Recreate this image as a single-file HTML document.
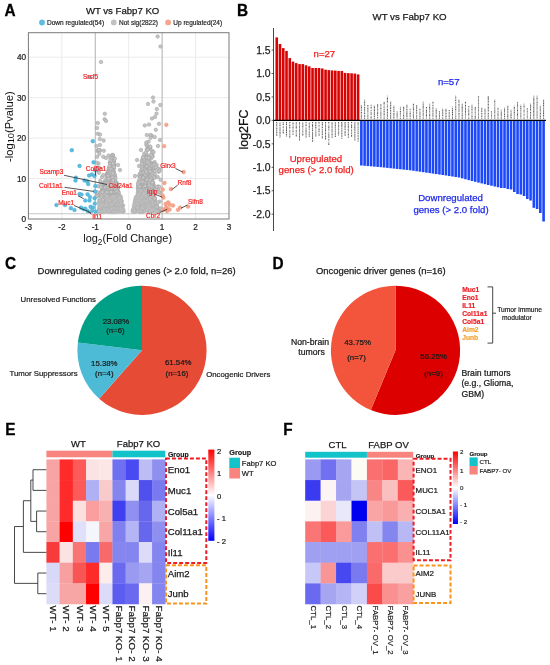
<!DOCTYPE html>
<html><head><meta charset="utf-8"><style>
html,body{margin:0;padding:0;background:#fff;width:550px;height:665px;overflow:hidden;}
svg{display:block;font-family:"Liberation Sans",sans-serif;will-change:transform;}
</style></head><body>
<svg width="550" height="665" viewBox="0 0 550 665" font-family="Liberation Sans, sans-serif"><text x="0" y="0" font-size="16.0" font-weight="bold" fill="#000" stroke="#000" stroke-width="0.3" transform="translate(4.6 15.5) scale(0.96 1)">A</text>
<text x="0" y="0" font-size="16.0" font-weight="bold" fill="#000" stroke="#000" stroke-width="0.3" transform="translate(237.1 15.5) scale(0.96 1)">B</text>
<text x="0" y="0" font-size="16.0" font-weight="bold" fill="#000" stroke="#000" stroke-width="0.3" transform="translate(4.9 268.6) scale(0.96 1)">C</text>
<text x="0" y="0" font-size="16.0" font-weight="bold" fill="#000" stroke="#000" stroke-width="0.3" transform="translate(272.6 268.8) scale(0.96 1)">D</text>
<text x="0" y="0" font-size="16.0" font-weight="bold" fill="#000" stroke="#000" stroke-width="0.3" transform="translate(5.2 435.0) scale(0.96 1)">E</text>
<text x="0" y="0" font-size="16.0" font-weight="bold" fill="#000" stroke="#000" stroke-width="0.3" transform="translate(283.2 435.0) scale(0.96 1)">F</text>
<line x1="61.84" y1="32.7" x2="61.84" y2="219.0" stroke="#e6e6e6" stroke-width="0.8"/>
<line x1="128.70" y1="32.7" x2="128.70" y2="219.0" stroke="#e6e6e6" stroke-width="0.8"/>
<line x1="195.56" y1="32.7" x2="195.56" y2="219.0" stroke="#e6e6e6" stroke-width="0.8"/>
<line x1="28.4" y1="178.55" x2="229.0" y2="178.55" stroke="#e6e6e6" stroke-width="0.8"/>
<line x1="28.4" y1="138.10" x2="229.0" y2="138.10" stroke="#e6e6e6" stroke-width="0.8"/>
<line x1="28.4" y1="97.65" x2="229.0" y2="97.65" stroke="#e6e6e6" stroke-width="0.8"/>
<line x1="28.4" y1="57.20" x2="229.0" y2="57.20" stroke="#e6e6e6" stroke-width="0.8"/>
<line x1="95.27" y1="32.7" x2="95.27" y2="219.0" stroke="#a8a8a8" stroke-width="0.9"/>
<line x1="162.13" y1="32.7" x2="162.13" y2="219.0" stroke="#a8a8a8" stroke-width="0.9"/>
<line x1="28.4" y1="213.74" x2="229.0" y2="213.74" stroke="#b8b8b8" stroke-width="0.8"/>
<polygon points="97.2,212.0 98.0,204.0 99.0,196.0 100.0,191.0 120.0,191.0 121.5,196.0 123.5,204.0 125.3,212.0" fill="#bdbdbd"/>
<polygon points="131.5,212.0 133.5,204.0 135.3,196.0 136.8,188.0 154.5,188.0 155.5,196.0 157.5,204.0 160.0,212.0" fill="#bdbdbd"/>
<g fill="#bfbfbf" stroke="#b0b0b0" stroke-width="0.45"><circle cx="111.7" cy="194.8" r="1.75"/><circle cx="120.5" cy="196.5" r="1.75"/><circle cx="110.1" cy="198.1" r="1.75"/><circle cx="118.7" cy="198.6" r="1.75"/><circle cx="115.3" cy="209.1" r="1.75"/><circle cx="108.0" cy="201.9" r="1.75"/><circle cx="102.7" cy="209.8" r="1.75"/><circle cx="111.5" cy="209.6" r="1.75"/><circle cx="108.2" cy="200.5" r="1.75"/><circle cx="110.8" cy="211.9" r="1.75"/><circle cx="99.5" cy="202.3" r="1.75"/><circle cx="102.0" cy="209.4" r="1.75"/><circle cx="116.3" cy="211.0" r="1.75"/><circle cx="119.3" cy="211.4" r="1.75"/><circle cx="104.3" cy="201.7" r="1.75"/><circle cx="122.4" cy="209.8" r="1.75"/><circle cx="107.6" cy="211.6" r="1.75"/><circle cx="114.3" cy="203.0" r="1.75"/><circle cx="114.2" cy="200.6" r="1.75"/><circle cx="117.2" cy="207.0" r="1.75"/><circle cx="108.6" cy="210.6" r="1.75"/><circle cx="102.6" cy="209.2" r="1.75"/><circle cx="102.1" cy="206.8" r="1.75"/><circle cx="104.9" cy="202.2" r="1.75"/><circle cx="106.6" cy="196.3" r="1.75"/><circle cx="111.8" cy="199.7" r="1.75"/><circle cx="111.8" cy="199.0" r="1.75"/><circle cx="110.8" cy="194.4" r="1.75"/><circle cx="112.6" cy="208.9" r="1.75"/><circle cx="101.8" cy="209.0" r="1.75"/><circle cx="123.0" cy="210.4" r="1.75"/><circle cx="102.3" cy="211.7" r="1.75"/><circle cx="111.4" cy="196.1" r="1.75"/><circle cx="123.7" cy="211.4" r="1.75"/><circle cx="104.9" cy="207.1" r="1.75"/><circle cx="101.6" cy="208.0" r="1.75"/><circle cx="110.4" cy="198.3" r="1.75"/><circle cx="119.2" cy="208.5" r="1.75"/><circle cx="110.8" cy="202.7" r="1.75"/><circle cx="105.1" cy="193.1" r="1.75"/><circle cx="104.5" cy="210.7" r="1.75"/><circle cx="107.4" cy="210.3" r="1.75"/><circle cx="106.6" cy="205.3" r="1.75"/><circle cx="117.1" cy="211.4" r="1.75"/><circle cx="116.6" cy="206.0" r="1.75"/><circle cx="111.1" cy="201.4" r="1.75"/><circle cx="111.1" cy="197.6" r="1.75"/><circle cx="115.4" cy="196.5" r="1.75"/><circle cx="108.1" cy="210.9" r="1.75"/><circle cx="113.6" cy="198.7" r="1.75"/><circle cx="110.0" cy="208.6" r="1.75"/><circle cx="113.2" cy="209.1" r="1.75"/><circle cx="119.4" cy="209.5" r="1.75"/><circle cx="118.4" cy="195.0" r="1.75"/><circle cx="120.7" cy="202.9" r="1.75"/><circle cx="120.9" cy="202.7" r="1.75"/><circle cx="119.2" cy="209.7" r="1.75"/><circle cx="116.7" cy="208.8" r="1.75"/><circle cx="110.3" cy="208.0" r="1.75"/><circle cx="108.7" cy="205.7" r="1.75"/><circle cx="111.2" cy="210.4" r="1.75"/><circle cx="113.0" cy="206.2" r="1.75"/><circle cx="120.0" cy="208.0" r="1.75"/><circle cx="100.9" cy="210.7" r="1.75"/><circle cx="115.8" cy="196.1" r="1.75"/><circle cx="101.4" cy="194.7" r="1.75"/><circle cx="106.1" cy="210.0" r="1.75"/><circle cx="105.3" cy="193.3" r="1.75"/><circle cx="104.0" cy="197.1" r="1.75"/><circle cx="119.5" cy="210.5" r="1.75"/><circle cx="120.3" cy="198.3" r="1.75"/><circle cx="108.3" cy="209.3" r="1.75"/><circle cx="123.0" cy="205.5" r="1.75"/><circle cx="103.0" cy="208.3" r="1.75"/><circle cx="99.1" cy="208.6" r="1.75"/><circle cx="123.1" cy="209.7" r="1.75"/><circle cx="108.7" cy="206.3" r="1.75"/><circle cx="100.0" cy="201.3" r="1.75"/><circle cx="117.2" cy="207.6" r="1.75"/><circle cx="105.3" cy="206.4" r="1.75"/><circle cx="105.0" cy="209.8" r="1.75"/><circle cx="105.6" cy="195.8" r="1.75"/><circle cx="122.1" cy="207.4" r="1.75"/><circle cx="104.7" cy="209.6" r="1.75"/><circle cx="118.7" cy="208.1" r="1.75"/><circle cx="106.6" cy="199.1" r="1.75"/><circle cx="103.7" cy="199.6" r="1.75"/><circle cx="100.9" cy="197.9" r="1.75"/><circle cx="104.1" cy="211.9" r="1.75"/><circle cx="121.8" cy="201.1" r="1.75"/><circle cx="105.8" cy="207.3" r="1.75"/><circle cx="122.4" cy="210.7" r="1.75"/><circle cx="113.5" cy="209.1" r="1.75"/><circle cx="105.8" cy="194.5" r="1.75"/><circle cx="114.0" cy="207.0" r="1.75"/><circle cx="99.5" cy="210.9" r="1.75"/><circle cx="121.2" cy="208.0" r="1.75"/><circle cx="117.8" cy="198.2" r="1.75"/><circle cx="103.3" cy="199.5" r="1.75"/><circle cx="100.5" cy="199.3" r="1.75"/><circle cx="121.7" cy="201.5" r="1.75"/><circle cx="118.2" cy="207.4" r="1.75"/><circle cx="107.2" cy="208.3" r="1.75"/><circle cx="119.0" cy="198.1" r="1.75"/><circle cx="105.0" cy="207.6" r="1.75"/><circle cx="121.1" cy="208.6" r="1.75"/><circle cx="122.9" cy="205.5" r="1.75"/><circle cx="115.5" cy="211.4" r="1.75"/><circle cx="104.1" cy="206.2" r="1.75"/><circle cx="105.2" cy="199.6" r="1.75"/><circle cx="118.9" cy="196.8" r="1.75"/><circle cx="111.6" cy="199.4" r="1.75"/><circle cx="103.4" cy="208.9" r="1.75"/><circle cx="106.2" cy="201.4" r="1.75"/><circle cx="99.4" cy="199.6" r="1.75"/><circle cx="109.9" cy="203.2" r="1.75"/><circle cx="104.4" cy="197.2" r="1.75"/><circle cx="105.2" cy="203.3" r="1.75"/><circle cx="121.0" cy="210.3" r="1.75"/><circle cx="106.6" cy="209.1" r="1.75"/><circle cx="104.5" cy="205.3" r="1.75"/><circle cx="115.7" cy="206.9" r="1.75"/><circle cx="101.9" cy="208.2" r="1.75"/><circle cx="112.2" cy="197.0" r="1.75"/><circle cx="118.1" cy="201.3" r="1.75"/><circle cx="120.3" cy="210.2" r="1.75"/><circle cx="102.2" cy="194.8" r="1.75"/><circle cx="107.1" cy="197.9" r="1.75"/><circle cx="102.2" cy="199.1" r="1.75"/><circle cx="102.5" cy="203.2" r="1.75"/><circle cx="120.1" cy="196.5" r="1.75"/><circle cx="117.4" cy="211.4" r="1.75"/><circle cx="110.5" cy="200.1" r="1.75"/><circle cx="112.8" cy="206.9" r="1.75"/><circle cx="104.5" cy="197.7" r="1.75"/><circle cx="118.3" cy="199.1" r="1.75"/><circle cx="113.4" cy="199.6" r="1.75"/><circle cx="114.9" cy="208.2" r="1.75"/><circle cx="110.2" cy="199.4" r="1.75"/><circle cx="112.3" cy="210.8" r="1.75"/><circle cx="100.9" cy="208.8" r="1.75"/><circle cx="113.2" cy="195.8" r="1.75"/><circle cx="108.6" cy="202.3" r="1.75"/><circle cx="115.8" cy="209.3" r="1.75"/><circle cx="103.9" cy="208.8" r="1.75"/><circle cx="104.0" cy="200.7" r="1.75"/><circle cx="109.9" cy="201.2" r="1.75"/><circle cx="118.6" cy="203.8" r="1.75"/><circle cx="102.0" cy="206.8" r="1.75"/><circle cx="99.3" cy="202.5" r="1.75"/><circle cx="102.7" cy="199.3" r="1.75"/><circle cx="102.7" cy="206.7" r="1.75"/><circle cx="117.8" cy="206.0" r="1.75"/><circle cx="119.0" cy="204.3" r="1.75"/><circle cx="114.7" cy="210.0" r="1.75"/><circle cx="116.3" cy="206.3" r="1.75"/><circle cx="118.3" cy="202.2" r="1.75"/><circle cx="118.8" cy="210.8" r="1.75"/><circle cx="99.8" cy="205.6" r="1.75"/><circle cx="115.0" cy="207.7" r="1.75"/><circle cx="107.7" cy="207.3" r="1.75"/><circle cx="112.7" cy="208.4" r="1.75"/><circle cx="120.2" cy="201.2" r="1.75"/><circle cx="108.9" cy="211.2" r="1.75"/><circle cx="113.0" cy="196.5" r="1.75"/><circle cx="119.2" cy="195.3" r="1.75"/><circle cx="100.1" cy="195.8" r="1.75"/><circle cx="117.9" cy="196.5" r="1.75"/><circle cx="105.8" cy="199.7" r="1.75"/><circle cx="113.8" cy="211.0" r="1.75"/><circle cx="115.4" cy="205.8" r="1.75"/><circle cx="99.2" cy="201.1" r="1.75"/><circle cx="119.0" cy="205.7" r="1.75"/><circle cx="120.0" cy="201.1" r="1.75"/><circle cx="116.2" cy="200.5" r="1.75"/><circle cx="113.7" cy="208.3" r="1.75"/><circle cx="104.3" cy="193.5" r="1.75"/><circle cx="101.2" cy="200.2" r="1.75"/><circle cx="111.4" cy="206.3" r="1.75"/><circle cx="112.7" cy="199.9" r="1.75"/><circle cx="112.4" cy="204.5" r="1.75"/><circle cx="99.1" cy="210.2" r="1.75"/><circle cx="121.6" cy="204.8" r="1.75"/><circle cx="113.4" cy="207.0" r="1.75"/><circle cx="109.1" cy="193.0" r="1.75"/><circle cx="99.0" cy="211.8" r="1.75"/><circle cx="117.4" cy="202.8" r="1.75"/><circle cx="101.8" cy="211.5" r="1.75"/><circle cx="111.9" cy="193.5" r="1.75"/><circle cx="106.5" cy="198.2" r="1.75"/><circle cx="109.6" cy="203.1" r="1.75"/><circle cx="102.8" cy="202.9" r="1.75"/><circle cx="122.5" cy="211.8" r="1.75"/><circle cx="116.5" cy="206.2" r="1.75"/><circle cx="103.3" cy="202.5" r="1.75"/><circle cx="103.7" cy="198.9" r="1.75"/><circle cx="115.0" cy="196.7" r="1.75"/><circle cx="99.1" cy="204.4" r="1.75"/><circle cx="120.2" cy="207.1" r="1.75"/><circle cx="102.8" cy="202.5" r="1.75"/><circle cx="111.4" cy="209.6" r="1.75"/><circle cx="101.3" cy="201.6" r="1.75"/><circle cx="100.4" cy="194.7" r="1.75"/><circle cx="102.4" cy="195.8" r="1.75"/><circle cx="112.5" cy="204.2" r="1.75"/><circle cx="117.4" cy="197.5" r="1.75"/><circle cx="109.0" cy="208.7" r="1.75"/><circle cx="108.2" cy="203.0" r="1.75"/><circle cx="106.9" cy="208.9" r="1.75"/><circle cx="104.6" cy="209.8" r="1.75"/><circle cx="122.6" cy="210.5" r="1.75"/><circle cx="104.7" cy="207.9" r="1.75"/><circle cx="106.1" cy="209.4" r="1.75"/><circle cx="105.1" cy="209.7" r="1.75"/><circle cx="112.3" cy="203.0" r="1.75"/><circle cx="112.1" cy="204.2" r="1.75"/><circle cx="102.2" cy="209.9" r="1.75"/><circle cx="111.1" cy="203.6" r="1.75"/><circle cx="116.6" cy="198.3" r="1.75"/><circle cx="109.0" cy="210.1" r="1.75"/><circle cx="99.6" cy="207.1" r="1.75"/><circle cx="111.9" cy="207.7" r="1.75"/><circle cx="102.2" cy="193.4" r="1.75"/><circle cx="106.4" cy="201.6" r="1.75"/><circle cx="111.5" cy="211.0" r="1.75"/><circle cx="109.1" cy="211.7" r="1.75"/><circle cx="114.8" cy="199.9" r="1.75"/><circle cx="114.7" cy="203.1" r="1.75"/><circle cx="117.8" cy="202.0" r="1.75"/><circle cx="120.3" cy="203.8" r="1.75"/><circle cx="113.0" cy="201.6" r="1.75"/><circle cx="122.8" cy="210.0" r="1.75"/><circle cx="106.2" cy="195.9" r="1.75"/><circle cx="117.9" cy="205.0" r="1.75"/><circle cx="104.7" cy="202.1" r="1.75"/><circle cx="109.3" cy="202.7" r="1.75"/><circle cx="119.9" cy="196.1" r="1.75"/><circle cx="114.6" cy="203.6" r="1.75"/><circle cx="120.5" cy="207.0" r="1.75"/><circle cx="105.4" cy="204.2" r="1.75"/><circle cx="100.2" cy="193.9" r="1.75"/><circle cx="105.6" cy="202.6" r="1.75"/><circle cx="114.6" cy="197.7" r="1.75"/><circle cx="101.1" cy="202.3" r="1.75"/><circle cx="122.1" cy="209.2" r="1.75"/><circle cx="109.5" cy="202.4" r="1.75"/><circle cx="117.6" cy="208.1" r="1.75"/><circle cx="111.6" cy="201.0" r="1.75"/><circle cx="112.3" cy="210.5" r="1.75"/><circle cx="105.1" cy="193.1" r="1.75"/><circle cx="105.9" cy="208.6" r="1.75"/><circle cx="112.4" cy="205.6" r="1.75"/><circle cx="105.7" cy="202.5" r="1.75"/><circle cx="102.3" cy="194.9" r="1.75"/><circle cx="115.1" cy="197.8" r="1.75"/><circle cx="100.9" cy="211.1" r="1.75"/><circle cx="104.7" cy="208.5" r="1.75"/><circle cx="106.6" cy="202.4" r="1.75"/><circle cx="111.1" cy="209.1" r="1.75"/><circle cx="99.1" cy="210.5" r="1.75"/><circle cx="109.0" cy="203.9" r="1.75"/><circle cx="105.8" cy="206.7" r="1.75"/><circle cx="120.7" cy="210.6" r="1.75"/><circle cx="114.3" cy="210.8" r="1.75"/><circle cx="114.6" cy="201.3" r="1.75"/><circle cx="114.9" cy="209.5" r="1.75"/><circle cx="103.2" cy="205.6" r="1.75"/><circle cx="101.9" cy="193.6" r="1.75"/><circle cx="115.9" cy="204.3" r="1.75"/><circle cx="121.1" cy="198.1" r="1.75"/><circle cx="117.2" cy="196.1" r="1.75"/><circle cx="118.2" cy="195.2" r="1.75"/><circle cx="116.7" cy="204.8" r="1.75"/><circle cx="112.4" cy="196.1" r="1.75"/><circle cx="120.3" cy="200.8" r="1.75"/><circle cx="104.1" cy="193.4" r="1.75"/><circle cx="99.5" cy="204.9" r="1.75"/><circle cx="109.7" cy="193.6" r="1.75"/><circle cx="101.9" cy="211.5" r="1.75"/><circle cx="105.7" cy="193.1" r="1.75"/><circle cx="112.8" cy="211.8" r="1.75"/><circle cx="113.4" cy="199.1" r="1.75"/><circle cx="106.0" cy="208.7" r="1.75"/><circle cx="104.9" cy="206.4" r="1.75"/><circle cx="103.5" cy="204.4" r="1.75"/><circle cx="102.0" cy="205.0" r="1.75"/><circle cx="121.1" cy="205.0" r="1.75"/><circle cx="108.3" cy="197.7" r="1.75"/><circle cx="101.4" cy="193.6" r="1.75"/><circle cx="101.7" cy="196.2" r="1.75"/><circle cx="117.3" cy="198.7" r="1.75"/><circle cx="105.4" cy="211.0" r="1.75"/><circle cx="104.0" cy="209.1" r="1.75"/><circle cx="106.0" cy="198.3" r="1.75"/><circle cx="113.1" cy="212.0" r="1.75"/><circle cx="116.9" cy="204.7" r="1.75"/><circle cx="106.7" cy="202.0" r="1.75"/><circle cx="120.2" cy="205.5" r="1.75"/><circle cx="119.5" cy="204.3" r="1.75"/><circle cx="98.6" cy="212.0" r="1.75"/><circle cx="106.9" cy="193.8" r="1.75"/><circle cx="120.6" cy="207.5" r="1.75"/><circle cx="104.2" cy="211.1" r="1.75"/><circle cx="100.1" cy="200.2" r="1.75"/><circle cx="105.3" cy="205.5" r="1.75"/><circle cx="108.4" cy="205.0" r="1.75"/><circle cx="108.2" cy="210.7" r="1.75"/><circle cx="113.8" cy="208.0" r="1.75"/><circle cx="112.9" cy="203.8" r="1.75"/><circle cx="114.7" cy="212.0" r="1.75"/><circle cx="114.9" cy="197.3" r="1.75"/><circle cx="113.9" cy="201.9" r="1.75"/><circle cx="107.9" cy="204.6" r="1.75"/><circle cx="109.5" cy="200.8" r="1.75"/><circle cx="106.6" cy="195.9" r="1.75"/><circle cx="108.9" cy="204.1" r="1.75"/><circle cx="107.6" cy="200.2" r="1.75"/><circle cx="113.7" cy="195.5" r="1.75"/><circle cx="112.4" cy="198.1" r="1.75"/><circle cx="110.1" cy="202.9" r="1.75"/><circle cx="110.7" cy="205.9" r="1.75"/><circle cx="104.3" cy="198.9" r="1.75"/><circle cx="100.7" cy="197.9" r="1.75"/><circle cx="106.8" cy="204.8" r="1.75"/><circle cx="111.0" cy="204.1" r="1.75"/><circle cx="119.4" cy="204.5" r="1.75"/><circle cx="115.3" cy="200.4" r="1.75"/><circle cx="109.5" cy="200.8" r="1.75"/><circle cx="120.7" cy="208.5" r="1.75"/><circle cx="104.4" cy="193.4" r="1.75"/><circle cx="120.5" cy="202.9" r="1.75"/><circle cx="101.3" cy="194.0" r="1.75"/><circle cx="117.0" cy="194.6" r="1.75"/><circle cx="98.9" cy="211.1" r="1.75"/><circle cx="114.1" cy="196.5" r="1.75"/><circle cx="119.7" cy="197.7" r="1.75"/><circle cx="111.8" cy="204.4" r="1.75"/><circle cx="120.8" cy="203.3" r="1.75"/><circle cx="122.7" cy="210.4" r="1.75"/><circle cx="144.7" cy="197.4" r="1.75"/><circle cx="140.2" cy="188.6" r="1.75"/><circle cx="154.1" cy="208.2" r="1.75"/><circle cx="137.7" cy="203.4" r="1.75"/><circle cx="137.0" cy="197.1" r="1.75"/><circle cx="148.9" cy="211.1" r="1.75"/><circle cx="153.4" cy="210.6" r="1.75"/><circle cx="139.9" cy="194.8" r="1.75"/><circle cx="149.6" cy="197.3" r="1.75"/><circle cx="151.7" cy="207.9" r="1.75"/><circle cx="152.0" cy="197.4" r="1.75"/><circle cx="150.5" cy="205.8" r="1.75"/><circle cx="154.1" cy="197.8" r="1.75"/><circle cx="136.9" cy="200.1" r="1.75"/><circle cx="135.1" cy="200.8" r="1.75"/><circle cx="147.6" cy="199.1" r="1.75"/><circle cx="149.1" cy="198.7" r="1.75"/><circle cx="138.6" cy="209.3" r="1.75"/><circle cx="154.5" cy="204.6" r="1.75"/><circle cx="158.1" cy="209.2" r="1.75"/><circle cx="153.4" cy="208.4" r="1.75"/><circle cx="142.8" cy="202.6" r="1.75"/><circle cx="149.7" cy="207.3" r="1.75"/><circle cx="144.7" cy="190.1" r="1.75"/><circle cx="147.5" cy="204.7" r="1.75"/><circle cx="141.4" cy="194.5" r="1.75"/><circle cx="146.2" cy="195.6" r="1.75"/><circle cx="153.3" cy="189.6" r="1.75"/><circle cx="150.8" cy="203.7" r="1.75"/><circle cx="140.8" cy="209.6" r="1.75"/><circle cx="141.2" cy="208.3" r="1.75"/><circle cx="138.1" cy="209.7" r="1.75"/><circle cx="153.5" cy="205.9" r="1.75"/><circle cx="140.5" cy="206.5" r="1.75"/><circle cx="143.8" cy="195.0" r="1.75"/><circle cx="141.6" cy="198.8" r="1.75"/><circle cx="153.7" cy="196.5" r="1.75"/><circle cx="143.5" cy="194.2" r="1.75"/><circle cx="139.2" cy="198.6" r="1.75"/><circle cx="146.0" cy="203.3" r="1.75"/><circle cx="144.0" cy="188.9" r="1.75"/><circle cx="152.8" cy="195.0" r="1.75"/><circle cx="153.0" cy="205.2" r="1.75"/><circle cx="141.7" cy="191.5" r="1.75"/><circle cx="139.5" cy="199.9" r="1.75"/><circle cx="142.0" cy="210.5" r="1.75"/><circle cx="151.4" cy="191.2" r="1.75"/><circle cx="136.0" cy="198.9" r="1.75"/><circle cx="145.5" cy="196.7" r="1.75"/><circle cx="143.7" cy="192.9" r="1.75"/><circle cx="158.2" cy="212.0" r="1.75"/><circle cx="144.4" cy="193.7" r="1.75"/><circle cx="157.4" cy="210.4" r="1.75"/><circle cx="150.9" cy="206.7" r="1.75"/><circle cx="141.3" cy="192.8" r="1.75"/><circle cx="133.5" cy="211.7" r="1.75"/><circle cx="144.5" cy="205.2" r="1.75"/><circle cx="145.0" cy="206.1" r="1.75"/><circle cx="137.4" cy="199.8" r="1.75"/><circle cx="151.9" cy="210.9" r="1.75"/><circle cx="135.2" cy="201.1" r="1.75"/><circle cx="136.6" cy="197.3" r="1.75"/><circle cx="135.7" cy="204.5" r="1.75"/><circle cx="148.7" cy="204.2" r="1.75"/><circle cx="136.3" cy="205.7" r="1.75"/><circle cx="148.1" cy="192.2" r="1.75"/><circle cx="139.5" cy="190.6" r="1.75"/><circle cx="135.3" cy="205.9" r="1.75"/><circle cx="133.6" cy="210.6" r="1.75"/><circle cx="149.8" cy="207.4" r="1.75"/><circle cx="155.8" cy="207.4" r="1.75"/><circle cx="154.2" cy="195.2" r="1.75"/><circle cx="150.9" cy="191.9" r="1.75"/><circle cx="137.8" cy="199.1" r="1.75"/><circle cx="144.5" cy="187.7" r="1.75"/><circle cx="142.6" cy="201.6" r="1.75"/><circle cx="132.7" cy="210.8" r="1.75"/><circle cx="145.9" cy="190.7" r="1.75"/><circle cx="152.7" cy="206.4" r="1.75"/><circle cx="150.7" cy="206.2" r="1.75"/><circle cx="153.6" cy="201.8" r="1.75"/><circle cx="157.1" cy="211.0" r="1.75"/><circle cx="139.7" cy="211.9" r="1.75"/><circle cx="137.7" cy="197.9" r="1.75"/><circle cx="148.1" cy="200.0" r="1.75"/><circle cx="146.5" cy="209.9" r="1.75"/><circle cx="152.7" cy="187.7" r="1.75"/><circle cx="148.0" cy="209.8" r="1.75"/><circle cx="138.1" cy="190.9" r="1.75"/><circle cx="150.1" cy="190.3" r="1.75"/><circle cx="141.0" cy="198.4" r="1.75"/><circle cx="149.3" cy="205.6" r="1.75"/><circle cx="143.1" cy="198.0" r="1.75"/><circle cx="139.7" cy="195.8" r="1.75"/><circle cx="135.6" cy="200.8" r="1.75"/><circle cx="138.9" cy="192.0" r="1.75"/><circle cx="135.1" cy="207.8" r="1.75"/><circle cx="135.7" cy="209.7" r="1.75"/><circle cx="139.1" cy="208.3" r="1.75"/><circle cx="151.2" cy="207.0" r="1.75"/><circle cx="138.0" cy="187.9" r="1.75"/><circle cx="154.6" cy="208.5" r="1.75"/><circle cx="153.5" cy="194.6" r="1.75"/><circle cx="139.5" cy="204.3" r="1.75"/><circle cx="153.7" cy="204.5" r="1.75"/><circle cx="156.9" cy="209.3" r="1.75"/><circle cx="146.1" cy="203.2" r="1.75"/><circle cx="148.8" cy="201.7" r="1.75"/><circle cx="134.8" cy="209.7" r="1.75"/><circle cx="138.2" cy="205.1" r="1.75"/><circle cx="141.1" cy="190.7" r="1.75"/><circle cx="149.6" cy="189.6" r="1.75"/><circle cx="144.9" cy="198.2" r="1.75"/><circle cx="153.1" cy="187.5" r="1.75"/><circle cx="144.1" cy="197.2" r="1.75"/><circle cx="143.3" cy="209.3" r="1.75"/><circle cx="138.8" cy="209.6" r="1.75"/><circle cx="148.4" cy="193.7" r="1.75"/><circle cx="140.2" cy="195.9" r="1.75"/><circle cx="142.0" cy="208.2" r="1.75"/><circle cx="139.9" cy="191.5" r="1.75"/><circle cx="154.3" cy="209.7" r="1.75"/><circle cx="152.6" cy="199.8" r="1.75"/><circle cx="138.8" cy="203.5" r="1.75"/><circle cx="137.9" cy="193.0" r="1.75"/><circle cx="140.9" cy="190.9" r="1.75"/><circle cx="135.4" cy="211.4" r="1.75"/><circle cx="150.6" cy="191.0" r="1.75"/><circle cx="145.3" cy="193.2" r="1.75"/><circle cx="149.3" cy="190.7" r="1.75"/><circle cx="147.1" cy="198.4" r="1.75"/><circle cx="149.5" cy="192.9" r="1.75"/><circle cx="140.0" cy="188.6" r="1.75"/><circle cx="154.9" cy="200.1" r="1.75"/><circle cx="141.8" cy="197.8" r="1.75"/><circle cx="147.4" cy="192.7" r="1.75"/><circle cx="138.7" cy="203.7" r="1.75"/><circle cx="144.4" cy="196.2" r="1.75"/><circle cx="135.9" cy="211.0" r="1.75"/><circle cx="137.6" cy="196.2" r="1.75"/><circle cx="138.0" cy="196.0" r="1.75"/><circle cx="142.4" cy="195.8" r="1.75"/><circle cx="139.4" cy="210.3" r="1.75"/><circle cx="156.2" cy="205.6" r="1.75"/><circle cx="153.7" cy="209.4" r="1.75"/><circle cx="155.2" cy="211.6" r="1.75"/><circle cx="154.5" cy="208.9" r="1.75"/><circle cx="142.7" cy="199.6" r="1.75"/><circle cx="148.8" cy="205.9" r="1.75"/><circle cx="139.7" cy="204.4" r="1.75"/><circle cx="157.4" cy="206.6" r="1.75"/><circle cx="148.6" cy="199.2" r="1.75"/><circle cx="148.2" cy="194.3" r="1.75"/><circle cx="144.8" cy="194.1" r="1.75"/><circle cx="149.0" cy="209.1" r="1.75"/><circle cx="154.7" cy="204.9" r="1.75"/><circle cx="152.2" cy="193.6" r="1.75"/><circle cx="145.1" cy="200.3" r="1.75"/><circle cx="143.4" cy="188.8" r="1.75"/><circle cx="152.6" cy="190.9" r="1.75"/><circle cx="153.0" cy="198.4" r="1.75"/><circle cx="142.5" cy="211.8" r="1.75"/><circle cx="153.5" cy="197.9" r="1.75"/><circle cx="154.8" cy="203.1" r="1.75"/><circle cx="156.6" cy="209.1" r="1.75"/><circle cx="147.5" cy="198.5" r="1.75"/><circle cx="141.0" cy="194.6" r="1.75"/><circle cx="147.5" cy="205.6" r="1.75"/><circle cx="156.3" cy="207.0" r="1.75"/><circle cx="138.4" cy="198.0" r="1.75"/><circle cx="139.8" cy="195.9" r="1.75"/><circle cx="141.9" cy="210.0" r="1.75"/><circle cx="139.7" cy="190.6" r="1.75"/><circle cx="134.7" cy="202.8" r="1.75"/><circle cx="142.4" cy="201.7" r="1.75"/><circle cx="142.3" cy="208.7" r="1.75"/><circle cx="147.4" cy="201.9" r="1.75"/><circle cx="153.0" cy="189.6" r="1.75"/><circle cx="141.9" cy="198.3" r="1.75"/><circle cx="145.0" cy="207.3" r="1.75"/><circle cx="140.2" cy="206.2" r="1.75"/><circle cx="136.6" cy="202.4" r="1.75"/><circle cx="147.6" cy="203.4" r="1.75"/><circle cx="134.1" cy="210.7" r="1.75"/><circle cx="151.1" cy="210.5" r="1.75"/><circle cx="146.0" cy="193.8" r="1.75"/><circle cx="144.6" cy="189.9" r="1.75"/><circle cx="144.5" cy="197.6" r="1.75"/><circle cx="141.8" cy="204.0" r="1.75"/><circle cx="135.9" cy="197.3" r="1.75"/><circle cx="148.8" cy="198.1" r="1.75"/><circle cx="148.6" cy="209.2" r="1.75"/><circle cx="149.9" cy="190.4" r="1.75"/><circle cx="150.2" cy="195.2" r="1.75"/><circle cx="145.6" cy="187.6" r="1.75"/><circle cx="148.2" cy="192.7" r="1.75"/><circle cx="152.1" cy="195.3" r="1.75"/><circle cx="144.7" cy="204.8" r="1.75"/><circle cx="153.2" cy="193.3" r="1.75"/><circle cx="139.1" cy="199.3" r="1.75"/><circle cx="152.6" cy="207.4" r="1.75"/><circle cx="146.0" cy="196.2" r="1.75"/><circle cx="136.8" cy="202.1" r="1.75"/><circle cx="149.9" cy="206.2" r="1.75"/><circle cx="144.8" cy="194.4" r="1.75"/><circle cx="150.0" cy="206.9" r="1.75"/><circle cx="147.9" cy="211.0" r="1.75"/><circle cx="146.9" cy="210.0" r="1.75"/><circle cx="142.2" cy="208.7" r="1.75"/><circle cx="146.7" cy="208.7" r="1.75"/><circle cx="142.4" cy="202.6" r="1.75"/><circle cx="153.1" cy="205.4" r="1.75"/><circle cx="152.2" cy="211.0" r="1.75"/><circle cx="149.1" cy="211.9" r="1.75"/><circle cx="149.3" cy="187.9" r="1.75"/><circle cx="145.5" cy="198.3" r="1.75"/><circle cx="148.6" cy="195.8" r="1.75"/><circle cx="145.5" cy="200.7" r="1.75"/><circle cx="137.9" cy="206.9" r="1.75"/><circle cx="137.1" cy="207.8" r="1.75"/><circle cx="143.9" cy="206.0" r="1.75"/><circle cx="138.1" cy="201.6" r="1.75"/><circle cx="139.7" cy="192.4" r="1.75"/><circle cx="148.3" cy="189.1" r="1.75"/><circle cx="144.0" cy="189.1" r="1.75"/><circle cx="139.7" cy="190.4" r="1.75"/><circle cx="135.0" cy="211.6" r="1.75"/><circle cx="138.2" cy="199.3" r="1.75"/><circle cx="153.7" cy="191.0" r="1.75"/><circle cx="141.9" cy="198.3" r="1.75"/><circle cx="149.0" cy="192.8" r="1.75"/><circle cx="143.4" cy="192.4" r="1.75"/><circle cx="138.0" cy="189.2" r="1.75"/><circle cx="154.2" cy="205.9" r="1.75"/><circle cx="150.2" cy="199.5" r="1.75"/><circle cx="140.7" cy="193.6" r="1.75"/><circle cx="148.8" cy="197.1" r="1.75"/><circle cx="138.7" cy="209.9" r="1.75"/><circle cx="143.1" cy="193.8" r="1.75"/><circle cx="153.0" cy="201.9" r="1.75"/><circle cx="138.5" cy="204.6" r="1.75"/><circle cx="138.2" cy="196.3" r="1.75"/><circle cx="143.2" cy="205.5" r="1.75"/><circle cx="148.7" cy="195.5" r="1.75"/><circle cx="151.0" cy="199.0" r="1.75"/><circle cx="154.5" cy="194.9" r="1.75"/><circle cx="143.7" cy="201.4" r="1.75"/><circle cx="143.2" cy="209.3" r="1.75"/><circle cx="144.1" cy="188.7" r="1.75"/><circle cx="150.2" cy="209.5" r="1.75"/><circle cx="147.5" cy="189.7" r="1.75"/><circle cx="140.1" cy="196.8" r="1.75"/><circle cx="149.7" cy="210.2" r="1.75"/><circle cx="139.6" cy="210.3" r="1.75"/><circle cx="152.4" cy="201.5" r="1.75"/><circle cx="151.7" cy="190.4" r="1.75"/><circle cx="154.5" cy="206.7" r="1.75"/><circle cx="153.7" cy="211.6" r="1.75"/><circle cx="140.0" cy="199.0" r="1.75"/><circle cx="149.8" cy="202.6" r="1.75"/><circle cx="149.5" cy="200.4" r="1.75"/><circle cx="145.9" cy="209.1" r="1.75"/><circle cx="143.8" cy="193.5" r="1.75"/><circle cx="149.7" cy="197.3" r="1.75"/><circle cx="151.5" cy="197.3" r="1.75"/><circle cx="135.6" cy="209.0" r="1.75"/><circle cx="137.8" cy="202.9" r="1.75"/><circle cx="145.3" cy="187.6" r="1.75"/><circle cx="146.4" cy="190.6" r="1.75"/><circle cx="151.6" cy="193.5" r="1.75"/><circle cx="139.9" cy="203.2" r="1.75"/><circle cx="137.9" cy="197.4" r="1.75"/><circle cx="138.8" cy="200.4" r="1.75"/><circle cx="142.6" cy="202.8" r="1.75"/><circle cx="150.1" cy="198.8" r="1.75"/><circle cx="150.8" cy="200.5" r="1.75"/><circle cx="139.0" cy="195.6" r="1.75"/><circle cx="139.1" cy="208.0" r="1.75"/><circle cx="152.9" cy="191.9" r="1.75"/><circle cx="143.3" cy="192.3" r="1.75"/><circle cx="150.6" cy="201.0" r="1.75"/><circle cx="135.9" cy="202.7" r="1.75"/><circle cx="149.3" cy="190.8" r="1.75"/><circle cx="150.5" cy="187.2" r="1.75"/><circle cx="144.0" cy="192.6" r="1.75"/><circle cx="156.5" cy="204.7" r="1.75"/><circle cx="153.5" cy="208.3" r="1.75"/><circle cx="148.3" cy="192.2" r="1.75"/><circle cx="143.7" cy="209.5" r="1.75"/><circle cx="143.7" cy="194.1" r="1.75"/><circle cx="158.4" cy="209.8" r="1.75"/><circle cx="138.5" cy="201.4" r="1.75"/><circle cx="151.6" cy="192.4" r="1.75"/><circle cx="145.6" cy="191.9" r="1.75"/><circle cx="158.4" cy="210.2" r="1.75"/><circle cx="153.4" cy="204.3" r="1.75"/><circle cx="146.4" cy="198.9" r="1.75"/><circle cx="146.2" cy="199.1" r="1.75"/><circle cx="147.2" cy="206.8" r="1.75"/><circle cx="144.3" cy="207.9" r="1.75"/><circle cx="149.1" cy="198.9" r="1.75"/><circle cx="137.2" cy="204.7" r="1.75"/><circle cx="139.0" cy="197.8" r="1.75"/><circle cx="134.7" cy="210.3" r="1.75"/><circle cx="140.4" cy="196.8" r="1.75"/><circle cx="155.2" cy="200.8" r="1.75"/><circle cx="147.1" cy="200.8" r="1.75"/><circle cx="137.8" cy="198.3" r="1.75"/><circle cx="133.6" cy="211.4" r="1.75"/><circle cx="140.5" cy="203.8" r="1.75"/><circle cx="155.1" cy="206.7" r="1.75"/><circle cx="142.3" cy="195.5" r="1.75"/><circle cx="145.1" cy="210.1" r="1.75"/><circle cx="141.1" cy="208.6" r="1.75"/><circle cx="152.0" cy="203.6" r="1.75"/><circle cx="143.1" cy="198.3" r="1.75"/><circle cx="157.1" cy="209.1" r="1.75"/><circle cx="146.6" cy="198.5" r="1.75"/><circle cx="141.5" cy="207.2" r="1.75"/><circle cx="154.4" cy="199.7" r="1.75"/><circle cx="135.4" cy="199.0" r="1.75"/><circle cx="136.6" cy="203.0" r="1.75"/><circle cx="154.6" cy="211.2" r="1.75"/><circle cx="150.0" cy="206.7" r="1.75"/><circle cx="150.0" cy="204.5" r="1.75"/><circle cx="150.2" cy="189.3" r="1.75"/><circle cx="137.9" cy="195.9" r="1.75"/><circle cx="142.3" cy="194.0" r="1.75"/><circle cx="140.2" cy="202.6" r="1.75"/><circle cx="144.1" cy="196.0" r="1.75"/><circle cx="142.6" cy="211.6" r="1.75"/><circle cx="145.9" cy="188.4" r="1.75"/><circle cx="152.2" cy="199.6" r="1.75"/><circle cx="154.0" cy="193.4" r="1.75"/><circle cx="138.0" cy="210.8" r="1.75"/><circle cx="151.9" cy="204.5" r="1.75"/><circle cx="136.6" cy="199.6" r="1.75"/><circle cx="147.9" cy="189.3" r="1.75"/><circle cx="150.3" cy="203.1" r="1.75"/><circle cx="149.4" cy="191.5" r="1.75"/><circle cx="158.7" cy="211.3" r="1.75"/><circle cx="146.2" cy="189.0" r="1.75"/><circle cx="139.6" cy="193.3" r="1.75"/><circle cx="150.0" cy="193.4" r="1.75"/><circle cx="151.8" cy="208.0" r="1.75"/><circle cx="141.4" cy="190.9" r="1.75"/><circle cx="133.4" cy="208.8" r="1.75"/><circle cx="153.3" cy="205.1" r="1.75"/><circle cx="144.9" cy="197.6" r="1.75"/><circle cx="150.1" cy="204.4" r="1.75"/><circle cx="145.4" cy="200.6" r="1.75"/><circle cx="147.7" cy="188.8" r="1.75"/><circle cx="139.3" cy="202.5" r="1.75"/><circle cx="153.5" cy="195.8" r="1.75"/><circle cx="157.6" cy="209.3" r="1.75"/><circle cx="146.6" cy="204.6" r="1.75"/><circle cx="154.3" cy="208.2" r="1.75"/><circle cx="148.8" cy="192.8" r="1.75"/><circle cx="153.5" cy="189.6" r="1.75"/><circle cx="135.2" cy="208.6" r="1.75"/><circle cx="135.9" cy="199.3" r="1.75"/><circle cx="134.5" cy="206.9" r="1.75"/><circle cx="139.1" cy="194.0" r="1.75"/><circle cx="147.5" cy="205.1" r="1.75"/><circle cx="143.6" cy="208.5" r="1.75"/><circle cx="135.8" cy="201.1" r="1.75"/><circle cx="145.4" cy="190.9" r="1.75"/><circle cx="152.9" cy="198.4" r="1.75"/><circle cx="132.8" cy="211.5" r="1.75"/><circle cx="149.7" cy="195.3" r="1.75"/><circle cx="138.1" cy="210.7" r="1.75"/><circle cx="150.5" cy="194.4" r="1.75"/><circle cx="149.3" cy="206.7" r="1.75"/><circle cx="138.6" cy="195.2" r="1.75"/><circle cx="133.1" cy="210.3" r="1.75"/><circle cx="144.6" cy="192.7" r="1.75"/><circle cx="144.8" cy="208.0" r="1.75"/><circle cx="140.3" cy="200.8" r="1.75"/><circle cx="144.6" cy="211.3" r="1.75"/><circle cx="152.1" cy="188.8" r="1.75"/><circle cx="135.8" cy="207.6" r="1.75"/><circle cx="136.4" cy="207.3" r="1.75"/><circle cx="149.9" cy="199.2" r="1.75"/><circle cx="148.3" cy="208.9" r="1.75"/><circle cx="145.0" cy="195.4" r="1.75"/><circle cx="155.4" cy="205.5" r="1.75"/><circle cx="150.0" cy="204.2" r="1.75"/><circle cx="152.9" cy="197.4" r="1.75"/><circle cx="138.3" cy="188.0" r="1.75"/><circle cx="141.5" cy="211.0" r="1.75"/><circle cx="137.4" cy="207.4" r="1.75"/><circle cx="141.5" cy="197.0" r="1.75"/><circle cx="137.1" cy="201.8" r="1.75"/><circle cx="155.9" cy="207.6" r="1.75"/><circle cx="150.8" cy="195.8" r="1.75"/><circle cx="137.5" cy="203.9" r="1.75"/><circle cx="143.0" cy="195.5" r="1.75"/><circle cx="149.9" cy="204.1" r="1.75"/><circle cx="142.9" cy="195.4" r="1.75"/><circle cx="137.2" cy="198.3" r="1.75"/><circle cx="154.0" cy="198.7" r="1.75"/><circle cx="146.0" cy="196.8" r="1.75"/><circle cx="145.9" cy="196.2" r="1.75"/><circle cx="143.2" cy="205.3" r="1.75"/><circle cx="141.7" cy="197.0" r="1.75"/><circle cx="150.8" cy="193.4" r="1.75"/><circle cx="146.6" cy="190.1" r="1.75"/><circle cx="154.6" cy="198.6" r="1.75"/><circle cx="151.6" cy="192.2" r="1.75"/><circle cx="139.6" cy="187.6" r="1.75"/><circle cx="144.3" cy="200.9" r="1.75"/><circle cx="154.0" cy="209.2" r="1.75"/><circle cx="157.9" cy="211.3" r="1.75"/><circle cx="152.6" cy="203.8" r="1.75"/><circle cx="142.5" cy="207.8" r="1.75"/><circle cx="133.6" cy="209.3" r="1.75"/><circle cx="147.2" cy="208.5" r="1.75"/><circle cx="152.7" cy="203.7" r="1.75"/><circle cx="142.3" cy="208.4" r="1.75"/><circle cx="152.5" cy="187.9" r="1.75"/><circle cx="146.5" cy="210.2" r="1.75"/><circle cx="150.2" cy="211.0" r="1.75"/><circle cx="146.7" cy="201.3" r="1.75"/><circle cx="153.1" cy="201.7" r="1.75"/><circle cx="134.4" cy="204.0" r="1.75"/><circle cx="142.9" cy="195.0" r="1.75"/><circle cx="134.5" cy="210.9" r="1.75"/><circle cx="140.8" cy="190.8" r="1.75"/><circle cx="150.6" cy="191.2" r="1.75"/><circle cx="139.5" cy="189.1" r="1.75"/><circle cx="141.1" cy="211.9" r="1.75"/><circle cx="148.9" cy="193.9" r="1.75"/><circle cx="149.4" cy="208.0" r="1.75"/><circle cx="142.1" cy="202.9" r="1.75"/><circle cx="140.6" cy="211.2" r="1.75"/><circle cx="138.5" cy="189.1" r="1.75"/><circle cx="156.9" cy="211.6" r="1.75"/><circle cx="134.0" cy="206.7" r="1.75"/><circle cx="134.0" cy="205.5" r="1.75"/><circle cx="135.9" cy="197.7" r="1.75"/><circle cx="139.9" cy="200.3" r="1.75"/><circle cx="141.7" cy="202.2" r="1.75"/><circle cx="155.1" cy="198.3" r="1.75"/><circle cx="152.1" cy="209.7" r="1.75"/><circle cx="153.4" cy="204.4" r="1.75"/><circle cx="143.8" cy="193.8" r="1.75"/><circle cx="139.8" cy="200.1" r="1.75"/><circle cx="148.8" cy="205.9" r="1.75"/><circle cx="137.8" cy="197.7" r="1.75"/></g>
<g fill="#c4c4c4" stroke="#a2a2a2" stroke-width="0.55"><circle cx="112.2" cy="172.9" r="1.75"/><circle cx="110.9" cy="175.3" r="1.75"/><circle cx="117.9" cy="187.6" r="1.75"/><circle cx="108.8" cy="170.9" r="1.75"/><circle cx="110.9" cy="191.2" r="1.75"/><circle cx="111.4" cy="178.9" r="1.75"/><circle cx="113.6" cy="180.4" r="1.75"/><circle cx="109.4" cy="193.0" r="1.75"/><circle cx="110.9" cy="169.3" r="1.75"/><circle cx="107.3" cy="173.8" r="1.75"/><circle cx="113.9" cy="175.2" r="1.75"/><circle cx="105.7" cy="189.8" r="1.75"/><circle cx="110.7" cy="185.7" r="1.75"/><circle cx="113.3" cy="173.2" r="1.75"/><circle cx="103.9" cy="184.2" r="1.75"/><circle cx="113.8" cy="181.9" r="1.75"/><circle cx="111.0" cy="192.3" r="1.75"/><circle cx="113.7" cy="161.6" r="1.75"/><circle cx="118.3" cy="191.9" r="1.75"/><circle cx="108.8" cy="188.2" r="1.75"/><circle cx="109.5" cy="184.5" r="1.75"/><circle cx="113.1" cy="164.7" r="1.75"/><circle cx="117.4" cy="192.5" r="1.75"/><circle cx="109.7" cy="173.8" r="1.75"/><circle cx="108.7" cy="179.7" r="1.75"/><circle cx="102.2" cy="190.4" r="1.75"/><circle cx="110.9" cy="169.8" r="1.75"/><circle cx="112.6" cy="159.2" r="1.75"/><circle cx="114.9" cy="178.8" r="1.75"/><circle cx="111.0" cy="180.5" r="1.75"/><circle cx="104.8" cy="184.7" r="1.75"/><circle cx="110.5" cy="163.4" r="1.75"/><circle cx="109.9" cy="186.1" r="1.75"/><circle cx="109.0" cy="168.9" r="1.75"/><circle cx="111.8" cy="156.4" r="1.75"/><circle cx="116.3" cy="191.5" r="1.75"/><circle cx="109.6" cy="167.4" r="1.75"/><circle cx="113.6" cy="175.0" r="1.75"/><circle cx="114.1" cy="182.5" r="1.75"/><circle cx="114.6" cy="192.4" r="1.75"/><circle cx="110.1" cy="168.7" r="1.75"/><circle cx="107.3" cy="180.2" r="1.75"/><circle cx="104.3" cy="182.3" r="1.75"/><circle cx="110.2" cy="171.6" r="1.75"/><circle cx="108.9" cy="188.3" r="1.75"/><circle cx="108.9" cy="170.0" r="1.75"/><circle cx="108.6" cy="183.8" r="1.75"/><circle cx="101.6" cy="191.6" r="1.75"/><circle cx="107.7" cy="177.0" r="1.75"/><circle cx="115.5" cy="183.0" r="1.75"/><circle cx="112.5" cy="155.3" r="1.75"/><circle cx="103.0" cy="191.6" r="1.75"/><circle cx="111.7" cy="176.6" r="1.75"/><circle cx="107.4" cy="181.7" r="1.75"/><circle cx="110.7" cy="167.2" r="1.75"/><circle cx="106.8" cy="182.9" r="1.75"/><circle cx="110.1" cy="162.3" r="1.75"/><circle cx="107.6" cy="192.7" r="1.75"/><circle cx="107.4" cy="173.3" r="1.75"/><circle cx="110.3" cy="179.2" r="1.75"/><circle cx="109.0" cy="169.4" r="1.75"/><circle cx="109.6" cy="180.1" r="1.75"/><circle cx="116.7" cy="192.7" r="1.75"/><circle cx="113.6" cy="168.3" r="1.75"/><circle cx="108.5" cy="187.7" r="1.75"/><circle cx="113.4" cy="180.2" r="1.75"/><circle cx="107.7" cy="190.1" r="1.75"/><circle cx="100.8" cy="192.0" r="1.75"/><circle cx="104.3" cy="186.0" r="1.75"/><circle cx="103.7" cy="191.3" r="1.75"/><circle cx="112.7" cy="175.2" r="1.75"/><circle cx="113.6" cy="165.9" r="1.75"/><circle cx="105.0" cy="180.9" r="1.75"/><circle cx="113.8" cy="165.5" r="1.75"/><circle cx="108.6" cy="176.4" r="1.75"/><circle cx="112.8" cy="188.0" r="1.75"/><circle cx="113.6" cy="182.5" r="1.75"/><circle cx="106.0" cy="181.6" r="1.75"/><circle cx="109.9" cy="179.1" r="1.75"/><circle cx="112.1" cy="183.7" r="1.75"/><circle cx="116.2" cy="183.4" r="1.75"/><circle cx="104.2" cy="183.5" r="1.75"/><circle cx="116.9" cy="191.1" r="1.75"/><circle cx="115.5" cy="190.7" r="1.75"/><circle cx="114.4" cy="187.7" r="1.75"/><circle cx="113.0" cy="179.8" r="1.75"/><circle cx="107.9" cy="172.2" r="1.75"/><circle cx="100.6" cy="192.1" r="1.75"/><circle cx="109.8" cy="174.7" r="1.75"/><circle cx="112.2" cy="188.3" r="1.75"/><circle cx="115.6" cy="181.7" r="1.75"/><circle cx="109.2" cy="168.2" r="1.75"/><circle cx="112.5" cy="186.8" r="1.75"/><circle cx="106.5" cy="177.7" r="1.75"/><circle cx="112.5" cy="189.5" r="1.75"/><circle cx="113.8" cy="171.5" r="1.75"/><circle cx="114.6" cy="186.3" r="1.75"/><circle cx="112.3" cy="184.5" r="1.75"/><circle cx="105.6" cy="187.3" r="1.75"/><circle cx="117.4" cy="190.3" r="1.75"/><circle cx="110.2" cy="162.4" r="1.75"/><circle cx="112.5" cy="155.7" r="1.75"/><circle cx="113.2" cy="160.5" r="1.75"/><circle cx="102.7" cy="190.8" r="1.75"/><circle cx="108.2" cy="178.7" r="1.75"/><circle cx="108.5" cy="190.0" r="1.75"/><circle cx="115.5" cy="185.4" r="1.75"/><circle cx="110.4" cy="163.9" r="1.75"/><circle cx="115.3" cy="191.1" r="1.75"/><circle cx="108.2" cy="190.6" r="1.75"/><circle cx="115.3" cy="183.2" r="1.75"/><circle cx="113.5" cy="173.0" r="1.75"/><circle cx="107.9" cy="184.4" r="1.75"/><circle cx="111.9" cy="179.4" r="1.75"/><circle cx="109.9" cy="176.6" r="1.75"/><circle cx="103.4" cy="190.9" r="1.75"/><circle cx="114.2" cy="189.2" r="1.75"/><circle cx="111.8" cy="180.5" r="1.75"/><circle cx="109.2" cy="174.7" r="1.75"/><circle cx="109.9" cy="177.3" r="1.75"/><circle cx="117.4" cy="186.8" r="1.75"/><circle cx="111.0" cy="181.3" r="1.75"/><circle cx="112.7" cy="164.8" r="1.75"/><circle cx="118.3" cy="192.4" r="1.75"/><circle cx="102.4" cy="192.2" r="1.75"/><circle cx="106.2" cy="186.4" r="1.75"/><circle cx="112.0" cy="191.1" r="1.75"/><circle cx="116.6" cy="190.5" r="1.75"/><circle cx="109.1" cy="171.5" r="1.75"/><circle cx="107.1" cy="186.8" r="1.75"/><circle cx="109.3" cy="180.0" r="1.75"/><circle cx="112.5" cy="154.9" r="1.75"/><circle cx="112.8" cy="161.5" r="1.75"/><circle cx="113.0" cy="164.9" r="1.75"/><circle cx="108.7" cy="182.4" r="1.75"/><circle cx="113.0" cy="187.5" r="1.75"/><circle cx="107.9" cy="190.7" r="1.75"/><circle cx="115.8" cy="187.3" r="1.75"/><circle cx="111.4" cy="174.2" r="1.75"/><circle cx="113.9" cy="162.7" r="1.75"/><circle cx="112.0" cy="175.8" r="1.75"/><circle cx="112.9" cy="155.2" r="1.75"/><circle cx="112.2" cy="158.9" r="1.75"/><circle cx="114.9" cy="177.2" r="1.75"/><circle cx="111.3" cy="169.0" r="1.75"/><circle cx="113.7" cy="165.4" r="1.75"/><circle cx="115.9" cy="186.3" r="1.75"/><circle cx="115.4" cy="182.6" r="1.75"/><circle cx="109.7" cy="193.0" r="1.75"/><circle cx="107.3" cy="173.9" r="1.75"/><circle cx="106.1" cy="189.5" r="1.75"/><circle cx="103.0" cy="188.0" r="1.75"/><circle cx="110.7" cy="170.3" r="1.75"/><circle cx="105.6" cy="183.4" r="1.75"/><circle cx="111.8" cy="191.8" r="1.75"/><circle cx="108.2" cy="177.7" r="1.75"/><circle cx="114.0" cy="191.9" r="1.75"/><circle cx="106.7" cy="189.7" r="1.75"/><circle cx="111.5" cy="183.9" r="1.75"/><circle cx="116.5" cy="182.6" r="1.75"/><circle cx="113.4" cy="163.2" r="1.75"/><circle cx="109.3" cy="179.7" r="1.75"/><circle cx="109.3" cy="189.4" r="1.75"/><circle cx="107.5" cy="186.4" r="1.75"/><circle cx="117.0" cy="187.9" r="1.75"/><circle cx="117.7" cy="188.7" r="1.75"/><circle cx="108.4" cy="191.1" r="1.75"/><circle cx="112.5" cy="186.3" r="1.75"/><circle cx="104.1" cy="187.5" r="1.75"/><circle cx="112.8" cy="157.6" r="1.75"/><circle cx="109.1" cy="174.6" r="1.75"/><circle cx="109.3" cy="187.9" r="1.75"/><circle cx="114.2" cy="176.5" r="1.75"/><circle cx="113.9" cy="168.5" r="1.75"/><circle cx="114.7" cy="174.9" r="1.75"/><circle cx="112.4" cy="167.8" r="1.75"/><circle cx="112.5" cy="173.9" r="1.75"/><circle cx="109.7" cy="183.4" r="1.75"/><circle cx="105.9" cy="188.3" r="1.75"/><circle cx="116.6" cy="189.5" r="1.75"/><circle cx="114.3" cy="185.6" r="1.75"/><circle cx="108.5" cy="187.1" r="1.75"/><circle cx="110.0" cy="171.3" r="1.75"/><circle cx="112.7" cy="167.2" r="1.75"/><circle cx="108.4" cy="192.7" r="1.75"/><circle cx="113.6" cy="164.6" r="1.75"/><circle cx="111.5" cy="156.4" r="1.75"/><circle cx="109.2" cy="176.2" r="1.75"/><circle cx="116.3" cy="191.2" r="1.75"/><circle cx="105.6" cy="189.4" r="1.75"/><circle cx="110.6" cy="168.6" r="1.75"/><circle cx="108.8" cy="178.0" r="1.75"/><circle cx="114.6" cy="188.9" r="1.75"/><circle cx="107.4" cy="175.0" r="1.75"/><circle cx="107.4" cy="175.2" r="1.75"/><circle cx="108.8" cy="168.3" r="1.75"/><circle cx="112.1" cy="171.3" r="1.75"/><circle cx="115.2" cy="186.1" r="1.75"/><circle cx="111.9" cy="168.0" r="1.75"/><circle cx="113.2" cy="187.9" r="1.75"/><circle cx="112.8" cy="179.6" r="1.75"/><circle cx="107.8" cy="174.3" r="1.75"/><circle cx="111.3" cy="189.5" r="1.75"/><circle cx="111.6" cy="192.5" r="1.75"/><circle cx="104.2" cy="186.9" r="1.75"/><circle cx="115.7" cy="186.0" r="1.75"/><circle cx="111.6" cy="168.8" r="1.75"/><circle cx="111.3" cy="186.3" r="1.75"/><circle cx="108.6" cy="188.3" r="1.75"/><circle cx="114.9" cy="176.9" r="1.75"/><circle cx="111.6" cy="175.7" r="1.75"/><circle cx="102.3" cy="187.9" r="1.75"/><circle cx="114.0" cy="176.2" r="1.75"/><circle cx="107.1" cy="189.6" r="1.75"/><circle cx="104.6" cy="188.4" r="1.75"/><circle cx="107.8" cy="187.6" r="1.75"/><circle cx="110.7" cy="173.5" r="1.75"/><circle cx="111.2" cy="183.2" r="1.75"/><circle cx="109.1" cy="177.7" r="1.75"/><circle cx="107.3" cy="182.1" r="1.75"/><circle cx="113.4" cy="161.9" r="1.75"/><circle cx="105.0" cy="187.2" r="1.75"/><circle cx="104.9" cy="188.0" r="1.75"/><circle cx="115.4" cy="189.0" r="1.75"/><circle cx="111.8" cy="178.2" r="1.75"/><circle cx="109.5" cy="188.9" r="1.75"/><circle cx="111.8" cy="161.7" r="1.75"/><circle cx="110.9" cy="159.2" r="1.75"/><circle cx="116.9" cy="186.4" r="1.75"/><circle cx="108.2" cy="175.3" r="1.75"/><circle cx="113.0" cy="163.4" r="1.75"/><circle cx="114.9" cy="180.8" r="1.75"/><circle cx="107.5" cy="179.3" r="1.75"/><circle cx="111.5" cy="188.8" r="1.75"/><circle cx="109.4" cy="183.4" r="1.75"/><circle cx="113.7" cy="160.1" r="1.75"/><circle cx="108.4" cy="183.2" r="1.75"/><circle cx="114.6" cy="174.4" r="1.75"/><circle cx="112.1" cy="158.0" r="1.75"/><circle cx="112.4" cy="175.1" r="1.75"/><circle cx="111.0" cy="192.1" r="1.75"/><circle cx="115.4" cy="177.9" r="1.75"/><circle cx="108.2" cy="176.0" r="1.75"/><circle cx="117.3" cy="186.0" r="1.75"/><circle cx="111.9" cy="185.7" r="1.75"/><circle cx="113.8" cy="166.9" r="1.75"/><circle cx="110.6" cy="168.7" r="1.75"/><circle cx="105.1" cy="187.3" r="1.75"/><circle cx="112.9" cy="173.2" r="1.75"/><circle cx="112.4" cy="177.4" r="1.75"/><circle cx="112.7" cy="182.1" r="1.75"/><circle cx="117.0" cy="184.2" r="1.75"/><circle cx="108.7" cy="178.5" r="1.75"/><circle cx="107.4" cy="186.4" r="1.75"/><circle cx="111.2" cy="185.1" r="1.75"/><circle cx="116.8" cy="191.3" r="1.75"/><circle cx="109.6" cy="166.1" r="1.75"/><circle cx="111.1" cy="187.9" r="1.75"/><circle cx="108.2" cy="184.7" r="1.75"/><circle cx="106.9" cy="192.3" r="1.75"/><circle cx="113.0" cy="180.2" r="1.75"/><circle cx="149.1" cy="163.0" r="1.75"/><circle cx="145.5" cy="179.7" r="1.75"/><circle cx="141.7" cy="177.6" r="1.75"/><circle cx="141.9" cy="170.4" r="1.75"/><circle cx="151.7" cy="178.4" r="1.75"/><circle cx="154.3" cy="166.5" r="1.75"/><circle cx="150.8" cy="183.5" r="1.75"/><circle cx="146.5" cy="174.2" r="1.75"/><circle cx="140.6" cy="176.4" r="1.75"/><circle cx="142.5" cy="174.2" r="1.75"/><circle cx="139.2" cy="185.5" r="1.75"/><circle cx="146.1" cy="186.4" r="1.75"/><circle cx="153.0" cy="177.0" r="1.75"/><circle cx="144.2" cy="182.5" r="1.75"/><circle cx="149.5" cy="161.5" r="1.75"/><circle cx="148.0" cy="166.4" r="1.75"/><circle cx="143.4" cy="172.8" r="1.75"/><circle cx="151.7" cy="164.1" r="1.75"/><circle cx="150.0" cy="186.3" r="1.75"/><circle cx="152.5" cy="181.8" r="1.75"/><circle cx="151.1" cy="182.3" r="1.75"/><circle cx="151.2" cy="157.7" r="1.75"/><circle cx="149.8" cy="164.9" r="1.75"/><circle cx="143.0" cy="186.3" r="1.75"/><circle cx="150.3" cy="182.0" r="1.75"/><circle cx="148.8" cy="171.8" r="1.75"/><circle cx="142.2" cy="174.0" r="1.75"/><circle cx="142.8" cy="170.3" r="1.75"/><circle cx="149.5" cy="167.0" r="1.75"/><circle cx="152.1" cy="168.6" r="1.75"/><circle cx="141.2" cy="183.6" r="1.75"/><circle cx="150.0" cy="172.9" r="1.75"/><circle cx="141.9" cy="160.5" r="1.75"/><circle cx="150.2" cy="147.5" r="1.75"/><circle cx="139.9" cy="180.4" r="1.75"/><circle cx="148.0" cy="146.7" r="1.75"/><circle cx="146.5" cy="154.5" r="1.75"/><circle cx="139.2" cy="182.0" r="1.75"/><circle cx="142.3" cy="178.8" r="1.75"/><circle cx="146.2" cy="172.8" r="1.75"/><circle cx="142.5" cy="175.7" r="1.75"/><circle cx="140.6" cy="173.0" r="1.75"/><circle cx="145.7" cy="156.9" r="1.75"/><circle cx="150.3" cy="164.3" r="1.75"/><circle cx="154.4" cy="167.4" r="1.75"/><circle cx="139.3" cy="175.9" r="1.75"/><circle cx="145.9" cy="179.8" r="1.75"/><circle cx="151.0" cy="185.7" r="1.75"/><circle cx="153.2" cy="174.1" r="1.75"/><circle cx="153.0" cy="170.7" r="1.75"/><circle cx="146.8" cy="149.3" r="1.75"/><circle cx="142.3" cy="178.1" r="1.75"/><circle cx="148.5" cy="185.9" r="1.75"/><circle cx="148.9" cy="175.9" r="1.75"/><circle cx="144.8" cy="178.7" r="1.75"/><circle cx="139.9" cy="175.7" r="1.75"/><circle cx="140.7" cy="181.4" r="1.75"/><circle cx="151.0" cy="158.3" r="1.75"/><circle cx="141.2" cy="181.7" r="1.75"/><circle cx="147.9" cy="182.9" r="1.75"/><circle cx="149.7" cy="148.3" r="1.75"/><circle cx="149.1" cy="178.6" r="1.75"/><circle cx="148.0" cy="149.5" r="1.75"/><circle cx="148.7" cy="176.0" r="1.75"/><circle cx="145.0" cy="185.5" r="1.75"/><circle cx="138.3" cy="186.8" r="1.75"/><circle cx="151.7" cy="163.1" r="1.75"/><circle cx="153.8" cy="169.7" r="1.75"/><circle cx="145.2" cy="184.5" r="1.75"/><circle cx="151.4" cy="164.6" r="1.75"/><circle cx="146.7" cy="166.0" r="1.75"/><circle cx="149.9" cy="182.4" r="1.75"/><circle cx="143.6" cy="168.6" r="1.75"/><circle cx="146.2" cy="159.5" r="1.75"/><circle cx="142.9" cy="158.0" r="1.75"/><circle cx="147.2" cy="182.3" r="1.75"/><circle cx="147.2" cy="172.2" r="1.75"/><circle cx="151.1" cy="167.1" r="1.75"/><circle cx="149.0" cy="156.6" r="1.75"/><circle cx="147.9" cy="181.4" r="1.75"/><circle cx="139.4" cy="174.9" r="1.75"/><circle cx="147.5" cy="178.3" r="1.75"/><circle cx="140.6" cy="173.1" r="1.75"/><circle cx="140.4" cy="185.5" r="1.75"/><circle cx="144.7" cy="157.4" r="1.75"/><circle cx="147.7" cy="175.1" r="1.75"/><circle cx="141.2" cy="180.6" r="1.75"/><circle cx="150.4" cy="172.5" r="1.75"/><circle cx="152.0" cy="150.7" r="1.75"/><circle cx="140.3" cy="186.3" r="1.75"/><circle cx="141.0" cy="181.4" r="1.75"/><circle cx="152.3" cy="176.4" r="1.75"/><circle cx="152.5" cy="183.2" r="1.75"/><circle cx="150.0" cy="175.2" r="1.75"/><circle cx="151.9" cy="168.5" r="1.75"/><circle cx="141.3" cy="177.2" r="1.75"/><circle cx="140.9" cy="181.0" r="1.75"/><circle cx="144.3" cy="176.7" r="1.75"/><circle cx="151.8" cy="183.4" r="1.75"/><circle cx="143.9" cy="164.1" r="1.75"/><circle cx="153.1" cy="184.5" r="1.75"/><circle cx="150.3" cy="146.5" r="1.75"/><circle cx="152.8" cy="178.2" r="1.75"/><circle cx="146.6" cy="161.0" r="1.75"/><circle cx="151.9" cy="180.8" r="1.75"/><circle cx="143.9" cy="159.9" r="1.75"/><circle cx="150.6" cy="171.7" r="1.75"/><circle cx="148.4" cy="159.0" r="1.75"/><circle cx="150.0" cy="165.3" r="1.75"/><circle cx="147.1" cy="171.8" r="1.75"/><circle cx="144.2" cy="153.7" r="1.75"/><circle cx="145.8" cy="186.0" r="1.75"/><circle cx="151.3" cy="165.6" r="1.75"/><circle cx="141.4" cy="170.0" r="1.75"/><circle cx="149.0" cy="176.0" r="1.75"/><circle cx="141.0" cy="172.8" r="1.75"/><circle cx="151.6" cy="186.8" r="1.75"/><circle cx="146.2" cy="181.8" r="1.75"/><circle cx="144.5" cy="176.0" r="1.75"/><circle cx="152.2" cy="178.4" r="1.75"/><circle cx="143.0" cy="177.9" r="1.75"/><circle cx="146.5" cy="161.2" r="1.75"/><circle cx="152.0" cy="165.7" r="1.75"/><circle cx="138.4" cy="183.8" r="1.75"/><circle cx="138.1" cy="185.9" r="1.75"/><circle cx="138.8" cy="182.4" r="1.75"/><circle cx="151.6" cy="168.5" r="1.75"/><circle cx="150.4" cy="180.5" r="1.75"/><circle cx="143.4" cy="156.9" r="1.75"/><circle cx="151.4" cy="176.7" r="1.75"/><circle cx="154.7" cy="162.0" r="1.75"/><circle cx="149.7" cy="168.0" r="1.75"/><circle cx="143.4" cy="179.4" r="1.75"/><circle cx="142.7" cy="185.3" r="1.75"/><circle cx="151.7" cy="178.6" r="1.75"/><circle cx="145.5" cy="165.8" r="1.75"/><circle cx="140.3" cy="185.9" r="1.75"/><circle cx="153.1" cy="174.1" r="1.75"/><circle cx="143.2" cy="169.8" r="1.75"/><circle cx="149.8" cy="177.2" r="1.75"/><circle cx="145.5" cy="167.1" r="1.75"/><circle cx="152.1" cy="178.9" r="1.75"/><circle cx="143.7" cy="186.7" r="1.75"/><circle cx="144.9" cy="182.7" r="1.75"/><circle cx="150.1" cy="186.0" r="1.75"/><circle cx="152.6" cy="156.0" r="1.75"/><circle cx="146.5" cy="157.7" r="1.75"/><circle cx="152.4" cy="156.7" r="1.75"/><circle cx="146.7" cy="182.4" r="1.75"/><circle cx="143.6" cy="175.0" r="1.75"/><circle cx="150.2" cy="165.7" r="1.75"/><circle cx="146.0" cy="167.9" r="1.75"/><circle cx="142.0" cy="161.6" r="1.75"/><circle cx="138.8" cy="181.4" r="1.75"/><circle cx="143.2" cy="157.6" r="1.75"/><circle cx="143.3" cy="171.3" r="1.75"/><circle cx="140.6" cy="176.9" r="1.75"/><circle cx="153.6" cy="185.0" r="1.75"/><circle cx="151.4" cy="181.2" r="1.75"/><circle cx="145.2" cy="185.3" r="1.75"/><circle cx="144.5" cy="175.4" r="1.75"/><circle cx="146.3" cy="169.8" r="1.75"/><circle cx="152.5" cy="168.7" r="1.75"/><circle cx="153.9" cy="168.4" r="1.75"/><circle cx="145.1" cy="168.1" r="1.75"/><circle cx="149.7" cy="164.3" r="1.75"/><circle cx="152.7" cy="176.7" r="1.75"/><circle cx="146.4" cy="173.8" r="1.75"/><circle cx="147.6" cy="177.5" r="1.75"/><circle cx="142.2" cy="165.6" r="1.75"/><circle cx="150.4" cy="170.4" r="1.75"/><circle cx="149.0" cy="186.6" r="1.75"/><circle cx="150.4" cy="182.8" r="1.75"/><circle cx="150.7" cy="177.7" r="1.75"/><circle cx="142.1" cy="181.9" r="1.75"/><circle cx="151.3" cy="180.2" r="1.75"/><circle cx="152.5" cy="153.4" r="1.75"/><circle cx="143.8" cy="186.9" r="1.75"/><circle cx="149.4" cy="168.4" r="1.75"/><circle cx="139.4" cy="186.5" r="1.75"/><circle cx="153.2" cy="183.0" r="1.75"/><circle cx="153.2" cy="171.4" r="1.75"/><circle cx="144.3" cy="171.9" r="1.75"/><circle cx="139.6" cy="179.5" r="1.75"/><circle cx="148.6" cy="157.8" r="1.75"/><circle cx="144.9" cy="186.0" r="1.75"/><circle cx="152.1" cy="164.1" r="1.75"/><circle cx="150.2" cy="176.4" r="1.75"/><circle cx="149.4" cy="186.7" r="1.75"/><circle cx="145.7" cy="166.1" r="1.75"/><circle cx="146.0" cy="152.4" r="1.75"/><circle cx="151.6" cy="178.2" r="1.75"/><circle cx="153.7" cy="163.7" r="1.75"/><circle cx="147.1" cy="173.4" r="1.75"/><circle cx="153.3" cy="165.2" r="1.75"/><circle cx="152.4" cy="184.8" r="1.75"/><circle cx="150.3" cy="179.1" r="1.75"/><circle cx="152.9" cy="184.2" r="1.75"/><circle cx="152.4" cy="184.6" r="1.75"/><circle cx="143.3" cy="171.5" r="1.75"/><circle cx="141.8" cy="183.6" r="1.75"/><circle cx="153.5" cy="164.8" r="1.75"/><circle cx="152.3" cy="152.2" r="1.75"/><circle cx="142.0" cy="183.4" r="1.75"/><circle cx="144.9" cy="182.3" r="1.75"/><circle cx="142.5" cy="166.1" r="1.75"/><circle cx="143.0" cy="181.4" r="1.75"/><circle cx="147.2" cy="178.2" r="1.75"/><circle cx="142.2" cy="168.8" r="1.75"/><circle cx="149.1" cy="180.2" r="1.75"/><circle cx="143.4" cy="172.4" r="1.75"/><circle cx="142.1" cy="180.7" r="1.75"/><circle cx="141.9" cy="183.2" r="1.75"/><circle cx="144.0" cy="162.9" r="1.75"/><circle cx="146.8" cy="166.6" r="1.75"/><circle cx="151.4" cy="177.9" r="1.75"/><circle cx="151.2" cy="174.9" r="1.75"/><circle cx="149.3" cy="170.7" r="1.75"/><circle cx="143.3" cy="164.4" r="1.75"/><circle cx="145.5" cy="170.3" r="1.75"/><circle cx="142.1" cy="182.2" r="1.75"/><circle cx="149.0" cy="179.8" r="1.75"/><circle cx="152.4" cy="166.1" r="1.75"/><circle cx="146.8" cy="179.9" r="1.75"/><circle cx="146.7" cy="145.6" r="1.75"/><circle cx="153.0" cy="175.7" r="1.75"/><circle cx="152.5" cy="173.5" r="1.75"/><circle cx="146.7" cy="166.3" r="1.75"/><circle cx="147.9" cy="162.1" r="1.75"/><circle cx="151.4" cy="185.3" r="1.75"/><circle cx="143.0" cy="176.3" r="1.75"/><circle cx="147.6" cy="149.8" r="1.75"/><circle cx="149.0" cy="182.9" r="1.75"/><circle cx="141.8" cy="166.5" r="1.75"/><circle cx="152.3" cy="182.4" r="1.75"/><circle cx="145.5" cy="172.9" r="1.75"/><circle cx="138.1" cy="183.6" r="1.75"/><circle cx="145.0" cy="175.4" r="1.75"/><circle cx="150.8" cy="155.0" r="1.75"/><circle cx="146.4" cy="171.8" r="1.75"/><circle cx="151.4" cy="186.5" r="1.75"/><circle cx="150.1" cy="180.1" r="1.75"/><circle cx="143.2" cy="177.2" r="1.75"/><circle cx="153.6" cy="152.0" r="1.75"/><circle cx="150.2" cy="171.4" r="1.75"/><circle cx="139.8" cy="181.9" r="1.75"/><circle cx="141.8" cy="163.9" r="1.75"/><circle cx="149.2" cy="185.3" r="1.75"/><circle cx="142.4" cy="181.7" r="1.75"/><circle cx="143.2" cy="177.8" r="1.75"/><circle cx="154.3" cy="167.8" r="1.75"/><circle cx="98.2" cy="186.2" r="1.75"/><circle cx="97.5" cy="151.1" r="1.75"/><circle cx="100.2" cy="150.3" r="1.75"/><circle cx="98.4" cy="171.0" r="1.75"/><circle cx="98.0" cy="150.1" r="1.75"/><circle cx="98.4" cy="163.4" r="1.75"/><circle cx="98.9" cy="172.8" r="1.75"/><circle cx="99.2" cy="167.8" r="1.75"/><circle cx="96.6" cy="196.1" r="1.75"/><circle cx="102.0" cy="177.1" r="1.75"/><circle cx="96.5" cy="162.8" r="1.75"/><circle cx="103.3" cy="175.1" r="1.75"/><circle cx="98.0" cy="195.1" r="1.75"/><circle cx="103.2" cy="156.7" r="1.75"/><circle cx="100.3" cy="180.9" r="1.75"/><circle cx="97.4" cy="167.6" r="1.75"/><circle cx="101.1" cy="187.0" r="1.75"/><circle cx="101.2" cy="184.1" r="1.75"/><circle cx="99.3" cy="153.8" r="1.75"/><circle cx="96.6" cy="196.1" r="1.75"/><circle cx="103.0" cy="199.8" r="1.75"/><circle cx="97.1" cy="192.3" r="1.75"/><circle cx="155.2" cy="177.3" r="1.75"/><circle cx="155.4" cy="203.0" r="1.75"/><circle cx="159.7" cy="201.6" r="1.75"/><circle cx="156.7" cy="206.8" r="1.75"/><circle cx="155.8" cy="188.7" r="1.75"/><circle cx="158.7" cy="171.7" r="1.75"/><circle cx="156.7" cy="165.0" r="1.75"/><circle cx="159.6" cy="169.2" r="1.75"/><circle cx="155.0" cy="173.9" r="1.75"/><circle cx="158.5" cy="191.9" r="1.75"/><circle cx="157.7" cy="202.7" r="1.75"/><circle cx="159.3" cy="170.5" r="1.75"/><circle cx="157.7" cy="168.5" r="1.75"/><circle cx="155.7" cy="167.3" r="1.75"/><circle cx="154.5" cy="177.5" r="1.75"/><circle cx="160.2" cy="192.8" r="1.75"/><circle cx="154.6" cy="171.0" r="1.75"/><circle cx="158.1" cy="186.5" r="1.75"/><circle cx="154.2" cy="164.7" r="1.75"/><circle cx="158.0" cy="190.1" r="1.75"/><circle cx="154.6" cy="198.6" r="1.75"/><circle cx="155.7" cy="189.5" r="1.75"/><circle cx="157.7" cy="177.0" r="1.75"/><circle cx="160.6" cy="179.8" r="1.75"/><circle cx="157.0" cy="187.0" r="1.75"/><circle cx="159.9" cy="209.4" r="1.75"/><circle cx="159.4" cy="186.9" r="1.75"/><circle cx="159.0" cy="191.9" r="1.75"/><circle cx="160.7" cy="208.5" r="1.75"/><circle cx="159.3" cy="170.8" r="1.75"/><circle cx="151.5" cy="135.4" r="1.75"/><circle cx="146.5" cy="144.3" r="1.75"/><circle cx="146.3" cy="142.5" r="1.75"/><circle cx="150.3" cy="135.1" r="1.75"/><circle cx="157.6" cy="36.5" r="1.75"/><circle cx="160.5" cy="46.5" r="1.75"/><circle cx="101.0" cy="62.0" r="1.75"/><circle cx="153.0" cy="97.5" r="1.75"/><circle cx="153.5" cy="101.6" r="1.75"/><circle cx="148.0" cy="104.0" r="1.75"/><circle cx="160.3" cy="105.0" r="1.75"/><circle cx="156.8" cy="109.0" r="1.75"/><circle cx="156.5" cy="113.6" r="1.75"/><circle cx="152.0" cy="118.5" r="1.75"/><circle cx="155.0" cy="117.0" r="1.75"/><circle cx="144.8" cy="125.4" r="1.75"/><circle cx="149.0" cy="124.6" r="1.75"/><circle cx="159.0" cy="123.8" r="1.75"/><circle cx="155.8" cy="129.8" r="1.75"/><circle cx="146.8" cy="135.0" r="1.75"/><circle cx="150.6" cy="137.8" r="1.75"/><circle cx="154.6" cy="137.0" r="1.75"/><circle cx="148.6" cy="141.6" r="1.75"/><circle cx="104.8" cy="113.8" r="1.75"/><circle cx="104.6" cy="119.2" r="1.75"/><circle cx="106.0" cy="121.0" r="1.75"/><circle cx="97.8" cy="123.0" r="1.75"/><circle cx="97.0" cy="128.0" r="1.75"/><circle cx="97.8" cy="133.8" r="1.75"/><circle cx="100.0" cy="134.6" r="1.75"/><circle cx="99.8" cy="139.0" r="1.75"/><circle cx="103.6" cy="140.6" r="1.75"/><circle cx="103.8" cy="150.8" r="1.75"/><circle cx="97.2" cy="156.8" r="1.75"/><circle cx="108.6" cy="155.6" r="1.75"/><circle cx="106.0" cy="158.0" r="1.75"/><circle cx="110.6" cy="158.6" r="1.75"/><circle cx="114.8" cy="158.6" r="1.75"/><circle cx="110.4" cy="160.6" r="1.75"/><circle cx="141.0" cy="150.0" r="1.75"/><circle cx="137.0" cy="160.0" r="1.75"/><circle cx="139.0" cy="166.0" r="1.75"/><circle cx="160.0" cy="140.0" r="1.75"/><circle cx="158.0" cy="146.0" r="1.75"/><circle cx="135.0" cy="176.0" r="1.75"/><circle cx="120.0" cy="170.0" r="1.75"/><circle cx="118.0" cy="165.0" r="1.75"/><circle cx="100.0" cy="145.0" r="1.75"/><circle cx="99.0" cy="150.0" r="1.75"/><circle cx="96.5" cy="146.0" r="1.75"/></g>
<g fill="#5bbde0" stroke="#46aad0" stroke-width="0.5"><circle cx="71.8" cy="150.2" r="1.85"/><circle cx="92.8" cy="141.2" r="1.85"/><circle cx="79.5" cy="165.9" r="1.85"/><circle cx="93.6" cy="162.3" r="1.85"/><circle cx="89.1" cy="175.5" r="1.85"/><circle cx="91.8" cy="174.5" r="1.85"/><circle cx="94.5" cy="175.9" r="1.85"/><circle cx="75.9" cy="177.7" r="1.85"/><circle cx="75.5" cy="180.5" r="1.85"/><circle cx="84.5" cy="180.5" r="1.85"/><circle cx="87.3" cy="181.4" r="1.85"/><circle cx="88.2" cy="184.1" r="1.85"/><circle cx="95.0" cy="191.4" r="1.85"/><circle cx="79.5" cy="194.1" r="1.85"/><circle cx="87.6" cy="194.3" r="1.85"/><circle cx="90.0" cy="197.0" r="1.85"/><circle cx="81.5" cy="194.5" r="1.85"/><circle cx="94.6" cy="198.3" r="1.85"/><circle cx="85.3" cy="200.5" r="1.85"/><circle cx="89.5" cy="200.5" r="1.85"/><circle cx="56.4" cy="205.0" r="1.85"/><circle cx="65.0" cy="205.0" r="1.85"/><circle cx="70.9" cy="208.2" r="1.85"/><circle cx="74.5" cy="210.0" r="1.85"/><circle cx="81.0" cy="207.6" r="1.85"/><circle cx="83.6" cy="209.1" r="1.85"/><circle cx="85.3" cy="208.7" r="1.85"/><circle cx="87.6" cy="211.0" r="1.85"/><circle cx="90.6" cy="206.8" r="1.85"/><circle cx="93.0" cy="207.5" r="1.85"/><circle cx="92.0" cy="210.8" r="1.85"/><circle cx="94.8" cy="203.5" r="1.85"/><circle cx="95.3" cy="186.0" r="1.85"/><circle cx="95.2" cy="170.0" r="1.85"/><circle cx="95.5" cy="211.5" r="1.85"/></g>
<g fill="#f6a68c" stroke="#ee9378" stroke-width="0.4"><circle cx="164.1" cy="146.1" r="1.9"/><circle cx="166.3" cy="124.8" r="1.9"/><circle cx="183.7" cy="172.0" r="1.9"/><circle cx="164.5" cy="183.0" r="1.9"/><circle cx="170.8" cy="189.0" r="1.9"/><circle cx="162.7" cy="189.5" r="1.9"/><circle cx="162.4" cy="195.3" r="1.9"/><circle cx="163.4" cy="197.5" r="1.9"/><circle cx="168.2" cy="202.3" r="1.9"/><circle cx="165.6" cy="204.0" r="1.9"/><circle cx="169.6" cy="204.7" r="1.9"/><circle cx="173.0" cy="205.5" r="1.9"/><circle cx="166.7" cy="207.6" r="1.9"/><circle cx="169.6" cy="209.5" r="1.9"/><circle cx="178.0" cy="209.8" r="1.9"/><circle cx="180.1" cy="207.6" r="1.9"/><circle cx="188.1" cy="206.6" r="1.9"/><circle cx="165.3" cy="208.4" r="1.9"/><circle cx="163.0" cy="210.0" r="1.9"/><circle cx="167.0" cy="211.0" r="1.9"/></g>
<g stroke="#2a2a2a" stroke-width="0.8"><line x1="64.1" y1="175.3" x2="107" y2="184.5"/><line x1="64.5" y1="187.3" x2="93.6" y2="191.4"/><line x1="78.2" y1="195.9" x2="83.6" y2="198.6"/><line x1="74.1" y1="205.5" x2="90.9" y2="212.7"/><line x1="88" y1="211.5" x2="91.5" y2="214.2"/><line x1="95.6" y1="170.5" x2="95.6" y2="175.5"/><line x1="175.5" y1="168.5" x2="183" y2="172.2"/><line x1="171.7" y1="189.6" x2="177.6" y2="185.3"/><line x1="154.7" y1="194" x2="162.4" y2="197.3"/><line x1="181" y1="208.2" x2="187.5" y2="205"/><line x1="159.7" y1="212.5" x2="167.2" y2="209.3"/></g>
<circle cx="89.5" cy="77.3" r="1.6" fill="#5bbde0"/>
<text x="83.00" y="78.50" font-size="6.5" fill="#f52222" stroke="#f52222" stroke-width="0.2">Srsf5</text>
<text x="39.50" y="174.10" font-size="6.5" fill="#f52222" stroke="#f52222" stroke-width="0.2">Scamp3</text>
<text x="85.80" y="170.50" font-size="6.5" fill="#f52222" stroke="#f52222" stroke-width="0.2">Col5a1</text>
<text x="39.00" y="187.90" font-size="6.5" fill="#f52222" stroke="#f52222" stroke-width="0.2">Col11a1</text>
<text x="108.50" y="187.60" font-size="6.5" fill="#f52222" stroke="#f52222" stroke-width="0.2">Col24a1</text>
<text x="61.70" y="194.90" font-size="6.5" fill="#f52222" stroke="#f52222" stroke-width="0.2">Eno1</text>
<text x="58.20" y="204.70" font-size="6.5" fill="#f52222" stroke="#f52222" stroke-width="0.2">Muc1</text>
<text x="92.20" y="218.50" font-size="6.5" fill="#f52222" stroke="#f52222" stroke-width="0.2">Il11</text>
<text x="160.20" y="168.00" font-size="6.5" fill="#f52222" stroke="#f52222" stroke-width="0.2">Glrx3</text>
<text x="177.60" y="184.90" font-size="6.5" fill="#f52222" stroke="#f52222" stroke-width="0.2">Rnf8</text>
<text x="147.00" y="193.60" font-size="6.5" fill="#f52222" stroke="#f52222" stroke-width="0.2">Igip</text>
<text x="188.00" y="203.80" font-size="6.5" fill="#f52222" stroke="#f52222" stroke-width="0.2">Sifn8</text>
<text x="146.00" y="218.00" font-size="6.5" fill="#f52222" stroke="#f52222" stroke-width="0.2">Cbr2</text>
<rect x="28.4" y="32.7" width="200.60" height="186.30" fill="none" stroke="#7a7a7a" stroke-width="1.0"/>
<text x="26.00" y="221.95" font-size="8.2" fill="#222" stroke="#222" stroke-width="0.228" text-anchor="end">0</text>
<text x="26.00" y="181.50" font-size="8.2" fill="#222" stroke="#222" stroke-width="0.228" text-anchor="end">10</text>
<text x="26.00" y="141.05" font-size="8.2" fill="#222" stroke="#222" stroke-width="0.228" text-anchor="end">20</text>
<text x="26.00" y="100.60" font-size="8.2" fill="#222" stroke="#222" stroke-width="0.228" text-anchor="end">30</text>
<text x="26.00" y="60.15" font-size="8.2" fill="#222" stroke="#222" stroke-width="0.228" text-anchor="end">40</text>
<text x="28.41" y="229.80" font-size="8.2" fill="#222" stroke="#222" stroke-width="0.228" text-anchor="middle">-3</text>
<text x="61.84" y="229.80" font-size="8.2" fill="#222" stroke="#222" stroke-width="0.228" text-anchor="middle">-2</text>
<text x="95.27" y="229.80" font-size="8.2" fill="#222" stroke="#222" stroke-width="0.228" text-anchor="middle">-1</text>
<text x="128.70" y="229.80" font-size="8.2" fill="#222" stroke="#222" stroke-width="0.228" text-anchor="middle">0</text>
<text x="162.13" y="229.80" font-size="8.2" fill="#222" stroke="#222" stroke-width="0.228" text-anchor="middle">1</text>
<text x="195.56" y="229.80" font-size="8.2" fill="#222" stroke="#222" stroke-width="0.228" text-anchor="middle">2</text>
<text x="228.99" y="229.80" font-size="8.2" fill="#222" stroke="#222" stroke-width="0.228" text-anchor="middle">3</text>
<text x="83.3" y="242.4" font-size="10.9" fill="#111">log<tspan font-size="8.2" dy="2.2">2</tspan><tspan dy="-2.2">(Fold Change)</tspan></text>
<text x="12.8" y="162.0" font-size="11.2" fill="#111" transform="rotate(-90 12.8 162.0)">-log<tspan font-size="9.4" dy="1.6">10</tspan><tspan dy="-1.6">(Pvalue)</tspan></text>
<text x="122.60" y="14.10" font-size="9.6" fill="#1a1a1a" stroke="#1a1a1a" stroke-width="0.250" text-anchor="middle">WT vs Fabp7 KO</text>
<circle cx="42" cy="22.5" r="2.9" fill="#5bbde0"/><circle cx="113.8" cy="22.4" r="2.9" fill="#c2c2c2"/><circle cx="168.1" cy="22.4" r="2.9" fill="#f6a68c"/>
<text x="47.00" y="24.80" font-size="6.5" fill="#222" stroke="#222" stroke-width="0.181" text-anchor="start">Down regulated(54)</text>
<text x="119.00" y="24.80" font-size="6.5" fill="#222" stroke="#222" stroke-width="0.181" text-anchor="start">Not sig(2822)</text>
<text x="173.30" y="24.80" font-size="6.5" fill="#222" stroke="#222" stroke-width="0.181" text-anchor="start">Up regulated(24)</text>
<g fill="#d80404"><rect x="275.45" y="37.40" width="2.6" height="83.00"/><rect x="278.70" y="44.00" width="2.6" height="76.40"/><rect x="281.96" y="48.10" width="2.6" height="72.30"/><rect x="285.21" y="51.00" width="2.6" height="69.40"/><rect x="288.47" y="58.10" width="2.6" height="62.30"/><rect x="291.72" y="61.60" width="2.6" height="58.80"/><rect x="294.97" y="63.10" width="2.6" height="57.30"/><rect x="298.23" y="64.10" width="2.6" height="56.30"/><rect x="301.48" y="64.10" width="2.6" height="56.30"/><rect x="304.74" y="65.30" width="2.6" height="55.10"/><rect x="307.99" y="66.40" width="2.6" height="54.00"/><rect x="311.24" y="68.00" width="2.6" height="52.40"/><rect x="314.50" y="68.00" width="2.6" height="52.40"/><rect x="317.75" y="68.00" width="2.6" height="52.40"/><rect x="321.01" y="68.50" width="2.6" height="51.90"/><rect x="324.26" y="69.70" width="2.6" height="50.70"/><rect x="327.51" y="70.10" width="2.6" height="50.30"/><rect x="330.77" y="70.40" width="2.6" height="50.00"/><rect x="334.02" y="70.60" width="2.6" height="49.80"/><rect x="337.28" y="70.90" width="2.6" height="49.50"/><rect x="340.53" y="70.90" width="2.6" height="49.50"/><rect x="343.78" y="72.90" width="2.6" height="47.50"/><rect x="347.04" y="73.10" width="2.6" height="47.30"/><rect x="350.29" y="73.30" width="2.6" height="47.10"/><rect x="353.55" y="73.60" width="2.6" height="46.80"/><rect x="356.80" y="74.40" width="2.6" height="46.00"/></g>
<g fill="#1c48fb"><rect x="360.05" y="120.40" width="2.6" height="45.10"/><rect x="363.31" y="120.40" width="2.6" height="45.38"/><rect x="366.56" y="120.40" width="2.6" height="45.67"/><rect x="369.82" y="120.40" width="2.6" height="45.95"/><rect x="373.07" y="120.40" width="2.6" height="46.23"/><rect x="376.32" y="120.40" width="2.6" height="46.52"/><rect x="379.58" y="120.40" width="2.6" height="46.80"/><rect x="382.83" y="120.40" width="2.6" height="47.14"/><rect x="386.09" y="120.40" width="2.6" height="47.49"/><rect x="389.34" y="120.40" width="2.6" height="47.83"/><rect x="392.59" y="120.40" width="2.6" height="48.18"/><rect x="395.85" y="120.40" width="2.6" height="48.52"/><rect x="399.10" y="120.40" width="2.6" height="48.87"/><rect x="402.36" y="120.40" width="2.6" height="49.21"/><rect x="405.61" y="120.40" width="2.6" height="49.56"/><rect x="408.86" y="120.40" width="2.6" height="49.90"/><rect x="412.12" y="120.40" width="2.6" height="50.37"/><rect x="415.37" y="120.40" width="2.6" height="50.84"/><rect x="418.63" y="120.40" width="2.6" height="51.31"/><rect x="421.88" y="120.40" width="2.6" height="51.78"/><rect x="425.13" y="120.40" width="2.6" height="52.25"/><rect x="428.39" y="120.40" width="2.6" height="52.72"/><rect x="431.64" y="120.40" width="2.6" height="53.19"/><rect x="434.90" y="120.40" width="2.6" height="53.66"/><rect x="438.15" y="120.40" width="2.6" height="54.13"/><rect x="441.40" y="120.40" width="2.6" height="54.60"/><rect x="444.66" y="120.40" width="2.6" height="55.10"/><rect x="447.91" y="120.40" width="2.6" height="55.60"/><rect x="451.17" y="120.40" width="2.6" height="56.10"/><rect x="454.42" y="120.40" width="2.6" height="56.60"/><rect x="457.67" y="120.40" width="2.6" height="57.10"/><rect x="460.93" y="120.40" width="2.6" height="57.97"/><rect x="464.18" y="120.40" width="2.6" height="58.85"/><rect x="467.44" y="120.40" width="2.6" height="59.72"/><rect x="470.69" y="120.40" width="2.6" height="60.60"/><rect x="473.94" y="120.40" width="2.6" height="61.40"/><rect x="477.20" y="120.40" width="2.6" height="62.20"/><rect x="480.45" y="120.40" width="2.6" height="63.00"/><rect x="483.71" y="120.40" width="2.6" height="63.80"/><rect x="486.96" y="120.40" width="2.6" height="64.60"/><rect x="490.21" y="120.40" width="2.6" height="65.35"/><rect x="493.47" y="120.40" width="2.6" height="66.10"/><rect x="496.72" y="120.40" width="2.6" height="66.85"/><rect x="499.98" y="120.40" width="2.6" height="67.60"/><rect x="503.23" y="120.40" width="2.6" height="67.60"/><rect x="506.48" y="120.40" width="2.6" height="68.60"/><rect x="509.74" y="120.40" width="2.6" height="69.10"/><rect x="512.99" y="120.40" width="2.6" height="71.60"/><rect x="516.25" y="120.40" width="2.6" height="73.60"/><rect x="519.50" y="120.40" width="2.6" height="74.10"/><rect x="522.75" y="120.40" width="2.6" height="75.60"/><rect x="526.01" y="120.40" width="2.6" height="78.60"/><rect x="529.26" y="120.40" width="2.6" height="80.10"/><rect x="532.52" y="120.40" width="2.6" height="87.40"/><rect x="535.77" y="120.40" width="2.6" height="88.60"/><rect x="539.02" y="120.40" width="2.6" height="92.60"/><rect x="542.28" y="120.40" width="2.6" height="101.10"/></g>
<g stroke="#5a5a5a" stroke-width="1.05"><line x1="276.75" y1="122.0" x2="276.75" y2="136.0" stroke-dasharray="0.91 0.52 1.33 0.49 0.96 0.53 0.67 0.50 1.07 0.62 0.58 0.42"/><line x1="280.00" y1="122.0" x2="280.00" y2="138.0" stroke-dasharray="0.58 0.62 1.12 0.32 1.38 0.69 1.09 0.55 0.64 0.31 0.98 0.32"/><line x1="283.26" y1="122.0" x2="283.26" y2="134.0" stroke-dasharray="0.67 0.40 0.53 0.49 0.90 0.64 0.97 0.56 0.95 0.56 0.91 0.41"/><line x1="286.51" y1="122.0" x2="286.51" y2="137.0" stroke-dasharray="1.40 0.70 1.26 0.58 0.78 0.39 0.76 0.33 1.19 0.46 1.26 0.45"/><line x1="289.77" y1="122.0" x2="289.77" y2="139.0" stroke-dasharray="1.36 0.64 0.50 0.38 1.32 0.49 1.38 0.46 0.57 0.55 1.20 0.41"/><line x1="293.02" y1="122.0" x2="293.02" y2="135.0" stroke-dasharray="0.58 0.43 1.37 0.60 0.61 0.40 0.59 0.32 1.22 0.37 1.00 0.48"/><line x1="296.27" y1="122.0" x2="296.27" y2="137.0" stroke-dasharray="0.67 0.59 0.62 0.56 0.60 0.47 0.69 0.41 1.37 0.62 0.77 0.65"/><line x1="299.53" y1="122.0" x2="299.53" y2="141.0" stroke-dasharray="0.69 0.46 1.27 0.56 0.59 0.70 0.69 0.40 1.20 0.43 0.77 0.33"/><line x1="302.78" y1="122.0" x2="302.78" y2="136.0" stroke-dasharray="0.58 0.53 0.72 0.54 0.83 0.48 1.36 0.49 1.02 0.65 0.66 0.36"/><line x1="306.04" y1="122.0" x2="306.04" y2="138.0" stroke-dasharray="1.32 0.63 0.72 0.38 1.17 0.68 0.68 0.68 1.29 0.54 0.88 0.34"/><line x1="309.29" y1="122.0" x2="309.29" y2="137.0" stroke-dasharray="0.53 0.69 0.71 0.58 0.73 0.63 1.04 0.42 0.66 0.59 0.56 0.39"/><line x1="312.54" y1="122.0" x2="312.54" y2="142.0" stroke-dasharray="1.00 0.64 1.05 0.41 1.33 0.38 0.51 0.41 0.90 0.32 0.66 0.45"/><line x1="315.80" y1="122.0" x2="315.80" y2="137.0" stroke-dasharray="1.01 0.35 0.83 0.66 1.38 0.56 1.12 0.53 0.63 0.31 0.52 0.66"/><line x1="319.05" y1="122.0" x2="319.05" y2="136.0" stroke-dasharray="1.13 0.69 0.52 0.55 0.93 0.59 0.79 0.70 0.57 0.52 1.16 0.66"/><line x1="322.31" y1="122.0" x2="322.31" y2="139.0" stroke-dasharray="1.16 0.58 1.21 0.67 0.82 0.57 1.31 0.65 0.88 0.62 1.28 0.53"/><line x1="325.56" y1="122.0" x2="325.56" y2="140.0" stroke-dasharray="1.06 0.45 1.02 0.54 0.57 0.56 1.39 0.65 1.16 0.46 1.16 0.53"/><line x1="328.81" y1="122.0" x2="328.81" y2="145.0" stroke-dasharray="0.90 0.64 0.58 0.60 0.53 0.54 0.93 0.39 1.13 0.50 1.05 0.67"/><line x1="332.07" y1="122.0" x2="332.07" y2="138.0" stroke-dasharray="0.73 0.30 0.77 0.57 0.68 0.37 1.32 0.56 0.90 0.66 0.79 0.57"/><line x1="335.32" y1="122.0" x2="335.32" y2="137.0" stroke-dasharray="0.68 0.47 1.23 0.67 1.29 0.45 1.02 0.43 0.62 0.50 1.25 0.64"/><line x1="338.58" y1="122.0" x2="338.58" y2="136.0" stroke-dasharray="1.14 0.68 0.75 0.37 0.91 0.41 0.69 0.47 1.06 0.50 0.78 0.64"/><line x1="341.83" y1="122.0" x2="341.83" y2="139.0" stroke-dasharray="1.38 0.48 0.57 0.31 1.29 0.32 1.14 0.53 0.78 0.62 0.52 0.35"/><line x1="345.08" y1="122.0" x2="345.08" y2="136.0" stroke-dasharray="0.91 0.31 1.25 0.39 0.63 0.32 1.07 0.48 1.07 0.56 1.23 0.68"/><line x1="348.34" y1="122.0" x2="348.34" y2="138.0" stroke-dasharray="1.12 0.38 0.93 0.37 0.51 0.49 1.14 0.37 0.75 0.44 1.13 0.51"/><line x1="351.59" y1="122.0" x2="351.59" y2="137.0" stroke-dasharray="1.05 0.60 0.85 0.62 1.32 0.33 1.34 0.59 0.62 0.48 1.06 0.66"/><line x1="354.85" y1="122.0" x2="354.85" y2="141.0" stroke-dasharray="0.84 0.53 1.29 0.62 1.35 0.49 1.09 0.38 1.15 0.63 1.08 0.59"/><line x1="358.10" y1="122.0" x2="358.10" y2="142.0" stroke-dasharray="0.69 0.66 1.38 0.69 0.98 0.62 0.79 0.66 1.27 0.44 0.57 0.48"/><line x1="361.35" y1="118.8" x2="361.35" y2="104.8" stroke-dasharray="0.88 0.41 1.33 0.39 1.28 0.47 0.53 0.51 1.12 0.67 0.92 0.70"/><line x1="364.61" y1="118.8" x2="364.61" y2="99.8" stroke-dasharray="0.97 0.57 0.90 0.65 1.02 0.58 1.18 0.48 1.00 0.63 1.01 0.37"/><line x1="367.86" y1="118.8" x2="367.86" y2="104.8" stroke-dasharray="1.26 0.52 0.78 0.45 1.26 0.66 0.69 0.64 1.37 0.51 1.02 0.38"/><line x1="371.12" y1="118.8" x2="371.12" y2="104.8" stroke-dasharray="0.60 0.30 0.84 0.52 0.54 0.67 0.99 0.70 0.61 0.34 0.65 0.67"/><line x1="374.37" y1="118.8" x2="374.37" y2="105.8" stroke-dasharray="0.87 0.68 1.33 0.41 0.93 0.35 0.89 0.63 1.31 0.49 0.79 0.38"/><line x1="377.62" y1="118.8" x2="377.62" y2="103.8" stroke-dasharray="0.53 0.40 1.13 0.69 0.53 0.36 0.51 0.41 1.15 0.40 0.95 0.50"/><line x1="380.88" y1="118.8" x2="380.88" y2="103.8" stroke-dasharray="0.61 0.50 0.73 0.38 0.98 0.47 0.84 0.47 0.98 0.36 0.68 0.55"/><line x1="384.13" y1="118.8" x2="384.13" y2="101.8" stroke-dasharray="0.70 0.39 0.99 0.53 0.62 0.67 1.07 0.44 0.66 0.54 1.30 0.38"/><line x1="387.39" y1="118.8" x2="387.39" y2="95.8" stroke-dasharray="1.40 0.66 0.62 0.40 1.15 0.40 0.59 0.63 0.88 0.62 0.61 0.46"/><line x1="390.64" y1="118.8" x2="390.64" y2="101.8" stroke-dasharray="1.22 0.34 1.01 0.44 1.24 0.44 1.13 0.55 0.81 0.70 1.25 0.62"/><line x1="393.89" y1="118.8" x2="393.89" y2="105.8" stroke-dasharray="0.60 0.31 1.00 0.51 1.01 0.36 0.67 0.38 1.26 0.70 1.33 0.34"/><line x1="397.15" y1="118.8" x2="397.15" y2="110.8" stroke-dasharray="0.62 0.57 0.57 0.34 0.85 0.47 0.82 0.38 0.84 0.55 0.54 0.38"/><line x1="400.40" y1="118.8" x2="400.40" y2="106.8" stroke-dasharray="0.91 0.60 0.86 0.38 0.65 0.51 0.51 0.66 1.22 0.58 1.27 0.55"/><line x1="403.66" y1="118.8" x2="403.66" y2="106.8" stroke-dasharray="1.01 0.38 1.03 0.44 1.19 0.41 0.60 0.60 0.64 0.67 0.62 0.43"/><line x1="406.91" y1="118.8" x2="406.91" y2="104.8" stroke-dasharray="1.13 0.61 1.19 0.46 1.15 0.33 0.81 0.49 0.51 0.44 1.07 0.55"/><line x1="410.16" y1="118.8" x2="410.16" y2="108.8" stroke-dasharray="0.75 0.68 0.77 0.39 0.87 0.37 0.57 0.51 0.95 0.39 0.61 0.46"/><line x1="413.42" y1="118.8" x2="413.42" y2="103.8" stroke-dasharray="0.52 0.55 1.16 0.40 0.86 0.32 0.68 0.45 0.59 0.40 1.32 0.52"/><line x1="416.67" y1="118.8" x2="416.67" y2="104.8" stroke-dasharray="0.87 0.51 1.26 0.34 0.90 0.56 0.99 0.57 1.36 0.45 1.34 0.45"/><line x1="419.93" y1="118.8" x2="419.93" y2="108.8" stroke-dasharray="1.27 0.52 1.04 0.47 0.95 0.41 0.86 0.42 0.98 0.49 0.74 0.67"/><line x1="423.18" y1="118.8" x2="423.18" y2="101.8" stroke-dasharray="1.14 0.42 0.51 0.40 0.54 0.36 1.18 0.46 1.31 0.60 0.55 0.70"/><line x1="426.43" y1="118.8" x2="426.43" y2="106.8" stroke-dasharray="0.57 0.66 0.89 0.49 1.38 0.40 0.97 0.67 1.15 0.49 1.38 0.63"/><line x1="429.69" y1="118.8" x2="429.69" y2="103.8" stroke-dasharray="1.14 0.32 0.88 0.35 1.28 0.44 0.64 0.45 0.63 0.47 1.04 0.56"/><line x1="432.94" y1="118.8" x2="432.94" y2="101.8" stroke-dasharray="0.88 0.61 0.98 0.70 1.36 0.59 0.71 0.35 1.30 0.61 1.06 0.44"/><line x1="436.20" y1="118.8" x2="436.20" y2="107.8" stroke-dasharray="1.05 0.59 1.13 0.38 0.75 0.40 1.36 0.50 1.09 0.38 1.11 0.55"/><line x1="439.45" y1="118.8" x2="439.45" y2="110.8" stroke-dasharray="0.74 0.47 1.06 0.34 0.99 0.33 0.58 0.57 1.00 0.55 0.84 0.49"/><line x1="442.70" y1="118.8" x2="442.70" y2="108.8" stroke-dasharray="0.80 0.50 0.62 0.65 1.22 0.48 1.24 0.64 1.19 0.48 1.17 0.46"/><line x1="445.96" y1="118.8" x2="445.96" y2="108.8" stroke-dasharray="0.83 0.56 1.39 0.43 0.99 0.60 1.33 0.47 0.83 0.34 1.29 0.33"/><line x1="449.21" y1="118.8" x2="449.21" y2="109.8" stroke-dasharray="0.89 0.53 1.23 0.49 1.24 0.30 0.78 0.66 1.04 0.58 0.95 0.61"/><line x1="452.47" y1="118.8" x2="452.47" y2="106.8" stroke-dasharray="0.75 0.36 0.82 0.59 0.83 0.35 1.14 0.53 1.33 0.68 1.32 0.48"/><line x1="455.72" y1="118.8" x2="455.72" y2="95.8" stroke-dasharray="1.39 0.48 0.70 0.69 1.16 0.51 0.58 0.63 0.52 0.57 1.03 0.62"/><line x1="458.97" y1="118.8" x2="458.97" y2="99.8" stroke-dasharray="1.01 0.62 0.99 0.63 1.01 0.37 1.18 0.65 0.75 0.31 0.96 0.52"/><line x1="462.23" y1="118.8" x2="462.23" y2="103.8" stroke-dasharray="0.77 0.31 1.26 0.47 1.02 0.42 0.99 0.43 0.75 0.34 0.78 0.31"/><line x1="465.48" y1="118.8" x2="465.48" y2="101.8" stroke-dasharray="0.63 0.60 1.08 0.40 0.70 0.61 0.97 0.61 0.85 0.44 1.37 0.57"/><line x1="468.74" y1="118.8" x2="468.74" y2="105.8" stroke-dasharray="0.94 0.62 0.57 0.55 0.54 0.60 1.39 0.44 0.50 0.45 0.58 0.49"/><line x1="471.99" y1="118.8" x2="471.99" y2="104.8" stroke-dasharray="1.08 0.51 1.14 0.62 0.88 0.47 0.63 0.60 1.39 0.45 0.65 0.38"/><line x1="475.24" y1="118.8" x2="475.24" y2="106.8" stroke-dasharray="0.98 0.41 1.30 0.49 1.16 0.42 0.64 0.67 1.32 0.60 0.52 0.49"/><line x1="478.50" y1="118.8" x2="478.50" y2="95.8" stroke-dasharray="0.53 0.34 0.67 0.39 0.71 0.59 1.04 0.39 0.67 0.41 0.66 0.60"/><line x1="481.75" y1="118.8" x2="481.75" y2="107.8" stroke-dasharray="1.06 0.68 1.00 0.64 0.94 0.46 1.36 0.56 1.19 0.34 1.28 0.46"/><line x1="485.01" y1="118.8" x2="485.01" y2="108.8" stroke-dasharray="1.35 0.62 0.85 0.51 0.96 0.41 1.39 0.56 0.71 0.30 0.93 0.45"/><line x1="488.26" y1="118.8" x2="488.26" y2="95.8" stroke-dasharray="0.72 0.47 1.29 0.47 1.19 0.36 1.32 0.62 0.62 0.60 1.06 0.51"/><line x1="491.51" y1="118.8" x2="491.51" y2="110.8" stroke-dasharray="0.64 0.61 0.50 0.63 1.26 0.63 0.57 0.41 1.14 0.34 0.93 0.49"/><line x1="494.77" y1="118.8" x2="494.77" y2="99.8" stroke-dasharray="1.03 0.64 0.77 0.62 0.88 0.67 0.58 0.63 0.69 0.52 0.97 0.36"/><line x1="498.02" y1="118.8" x2="498.02" y2="107.8" stroke-dasharray="0.78 0.46 1.00 0.70 1.10 0.33 0.57 0.36 1.10 0.57 1.17 0.61"/><line x1="501.28" y1="118.8" x2="501.28" y2="109.8" stroke-dasharray="1.09 0.30 0.84 0.58 0.71 0.53 0.91 0.30 1.39 0.62 0.69 0.55"/><line x1="504.53" y1="118.8" x2="504.53" y2="107.8" stroke-dasharray="1.06 0.67 1.17 0.68 1.18 0.52 0.58 0.38 0.84 0.34 0.78 0.41"/><line x1="507.78" y1="118.8" x2="507.78" y2="105.8" stroke-dasharray="1.15 0.43 1.24 0.34 0.63 0.34 1.11 0.58 0.66 0.46 1.25 0.54"/><line x1="511.04" y1="118.8" x2="511.04" y2="109.8" stroke-dasharray="0.59 0.31 1.39 0.47 1.19 0.44 1.24 0.67 0.63 0.38 0.63 0.58"/><line x1="514.29" y1="118.8" x2="514.29" y2="105.8" stroke-dasharray="0.80 0.46 0.51 0.46 1.13 0.69 1.21 0.56 1.05 0.31 0.80 0.44"/><line x1="517.55" y1="118.8" x2="517.55" y2="101.8" stroke-dasharray="0.90 0.52 0.68 0.43 0.76 0.34 1.14 0.40 0.98 0.42 0.71 0.54"/><line x1="520.80" y1="118.8" x2="520.80" y2="104.8" stroke-dasharray="0.63 0.59 1.39 0.51 1.14 0.63 0.68 0.68 1.06 0.38 0.57 0.40"/><line x1="524.05" y1="118.8" x2="524.05" y2="103.8" stroke-dasharray="0.88 0.43 0.58 0.65 0.74 0.65 0.91 0.59 0.71 0.53 0.99 0.33"/><line x1="527.31" y1="118.8" x2="527.31" y2="107.8" stroke-dasharray="0.65 0.60 1.31 0.43 0.63 0.67 0.50 0.57 0.83 0.60 0.83 0.37"/><line x1="530.56" y1="118.8" x2="530.56" y2="103.8" stroke-dasharray="0.99 0.33 0.53 0.37 1.39 0.68 1.09 0.42 1.10 0.60 0.84 0.54"/><line x1="533.82" y1="118.8" x2="533.82" y2="95.8" stroke-dasharray="1.19 0.36 0.87 0.31 0.98 0.35 0.87 0.43 0.62 0.40 1.34 0.32"/><line x1="537.07" y1="118.8" x2="537.07" y2="95.8" stroke-dasharray="0.53 0.57 0.63 0.68 1.04 0.49 0.87 0.55 1.12 0.60 1.18 0.49"/><line x1="540.32" y1="118.8" x2="540.32" y2="105.8" stroke-dasharray="1.25 0.64 0.87 0.47 1.01 0.66 0.97 0.51 0.89 0.66 0.79 0.32"/><line x1="543.58" y1="118.8" x2="543.58" y2="99.8" stroke-dasharray="1.05 0.47 0.84 0.43 1.21 0.65 1.29 0.40 1.26 0.40 1.29 0.69"/></g>
<line x1="273.5" y1="120.4" x2="546" y2="120.4" stroke="#000" stroke-width="1.3"/>
<line x1="273.5" y1="28" x2="273.5" y2="231" stroke="#333" stroke-width="0.9"/>
<line x1="271.6" y1="50.05" x2="273.5" y2="50.05" stroke="#333" stroke-width="0.8"/>
<text x="270.60" y="53.75" font-size="10.4" fill="#222" stroke="#222" stroke-width="0.250" text-anchor="end">1.5</text>
<line x1="271.6" y1="73.50" x2="273.5" y2="73.50" stroke="#333" stroke-width="0.8"/>
<text x="270.60" y="77.20" font-size="10.4" fill="#222" stroke="#222" stroke-width="0.250" text-anchor="end">1.0</text>
<line x1="271.6" y1="96.95" x2="273.5" y2="96.95" stroke="#333" stroke-width="0.8"/>
<text x="270.60" y="100.65" font-size="10.4" fill="#222" stroke="#222" stroke-width="0.250" text-anchor="end">0.5</text>
<line x1="271.6" y1="120.40" x2="273.5" y2="120.40" stroke="#333" stroke-width="0.8"/>
<text x="270.60" y="124.10" font-size="10.4" fill="#222" stroke="#222" stroke-width="0.250" text-anchor="end">0.0</text>
<line x1="271.6" y1="143.85" x2="273.5" y2="143.85" stroke="#333" stroke-width="0.8"/>
<text x="270.60" y="147.55" font-size="10.4" fill="#222" stroke="#222" stroke-width="0.250" text-anchor="end">-0.5</text>
<line x1="271.6" y1="167.30" x2="273.5" y2="167.30" stroke="#333" stroke-width="0.8"/>
<text x="270.60" y="171.00" font-size="10.4" fill="#222" stroke="#222" stroke-width="0.250" text-anchor="end">-1.0</text>
<line x1="271.6" y1="190.75" x2="273.5" y2="190.75" stroke="#333" stroke-width="0.8"/>
<text x="270.60" y="194.45" font-size="10.4" fill="#222" stroke="#222" stroke-width="0.250" text-anchor="end">-1.5</text>
<line x1="271.6" y1="214.20" x2="273.5" y2="214.20" stroke="#333" stroke-width="0.8"/>
<text x="270.60" y="217.90" font-size="10.4" fill="#222" stroke="#222" stroke-width="0.250" text-anchor="end">-2.0</text>
<text x="248.00" y="129.50" font-size="12.4" fill="#111" stroke="#111" stroke-width="0.250" text-anchor="middle" transform="rotate(-90 248.00 129.50)">log2FC</text>
<text x="409.60" y="19.80" font-size="9.7" fill="#1a1a1a" stroke="#1a1a1a" stroke-width="0.250" text-anchor="middle">WT vs Fabp7 KO</text>
<text x="324.40" y="57.40" font-size="9.6" fill="#f02020" stroke="#f02020" stroke-width="0.250" text-anchor="middle">n=27</text>
<text x="448.70" y="85.00" font-size="9.6" fill="#1f2ae8" stroke="#1f2ae8" stroke-width="0.250" text-anchor="middle">n=57</text>
<text x="315.90" y="162.40" font-size="9.65" fill="#f02020" stroke="#f02020" stroke-width="0.250" text-anchor="middle">Upregulated</text>
<text x="316.20" y="173.40" font-size="9.65" fill="#f02020" stroke="#f02020" stroke-width="0.250" text-anchor="middle">genes (&gt; 2.0 fold)</text>
<text x="450.50" y="200.90" font-size="9.65" fill="#1f2ae8" stroke="#1f2ae8" stroke-width="0.250" text-anchor="middle">Downregulated</text>
<text x="451.00" y="212.90" font-size="9.65" fill="#1f2ae8" stroke="#1f2ae8" stroke-width="0.250" text-anchor="middle">genes (&gt; 2.0 fold)</text>
<path d="M142,350.3 L142.00,285.70 A64.6,64.6 0 1 1 99.16,398.65 Z" fill="#e64b35"/>
<path d="M142,350.3 L99.16,398.65 A64.6,64.6 0 0 1 77.87,342.51 Z" fill="#4dbbd5"/>
<path d="M142,350.3 L77.87,342.51 A64.6,64.6 0 0 1 142.00,285.70 Z" fill="#00a087"/>
<text x="136.60" y="273.70" font-size="9.5" fill="#1a1a1a" stroke="#1a1a1a" stroke-width="0.250" text-anchor="middle">Downregulated coding genes (&gt; 2.0 fold, n=26)</text>
<text x="58.30" y="301.80" font-size="7.8" fill="#1a1a1a" stroke="#1a1a1a" stroke-width="0.217" text-anchor="middle">Unresolved Functions</text>
<text x="43.50" y="376.40" font-size="7.8" fill="#1a1a1a" stroke="#1a1a1a" stroke-width="0.217" text-anchor="middle">Tumor Suppressors</text>
<text x="238.30" y="376.60" font-size="7.8" fill="#1a1a1a" stroke="#1a1a1a" stroke-width="0.217" text-anchor="middle">Oncogenic Drivers</text>
<text x="115.90" y="323.50" font-size="7.8" fill="#1a1a1a" stroke="#1a1a1a" stroke-width="0.217" text-anchor="middle">23.08%</text>
<text x="115.40" y="333.20" font-size="7.8" fill="#1a1a1a" stroke="#1a1a1a" stroke-width="0.217" text-anchor="middle">(n=6)</text>
<text x="104.30" y="366.30" font-size="7.8" fill="#1a1a1a" stroke="#1a1a1a" stroke-width="0.217" text-anchor="middle">15.38%</text>
<text x="104.30" y="375.70" font-size="7.8" fill="#1a1a1a" stroke="#1a1a1a" stroke-width="0.217" text-anchor="middle">(n=4)</text>
<text x="178.20" y="365.10" font-size="7.8" fill="#1a1a1a" stroke="#1a1a1a" stroke-width="0.217" text-anchor="middle">61.54%</text>
<text x="177.00" y="375.80" font-size="7.8" fill="#1a1a1a" stroke="#1a1a1a" stroke-width="0.217" text-anchor="middle">(n=16)</text>
<path d="M395.5,350.3 L395.50,285.70 A64.6,64.6 0 1 1 370.78,409.98 Z" fill="#dc0000"/>
<path d="M395.5,350.3 L370.78,409.98 A64.6,64.6 0 0 1 395.50,285.70 Z" fill="#f3553c"/>
<text x="380.80" y="273.70" font-size="9.45" fill="#1a1a1a" stroke="#1a1a1a" stroke-width="0.250" text-anchor="middle">Oncogenic driver genes (n=16)</text>
<text x="310.00" y="344.60" font-size="8.7" fill="#1a1a1a" stroke="#1a1a1a" stroke-width="0.242" text-anchor="middle">Non-brain</text>
<text x="311.50" y="354.70" font-size="8.7" fill="#1a1a1a" stroke="#1a1a1a" stroke-width="0.242" text-anchor="middle">tumors</text>
<text x="357.60" y="344.60" font-size="7.9" fill="#1a1a1a" stroke="#1a1a1a" stroke-width="0.219" text-anchor="middle">43.75%</text>
<text x="356.50" y="360.00" font-size="7.9" fill="#1a1a1a" stroke="#1a1a1a" stroke-width="0.219" text-anchor="middle">(n=7)</text>
<text x="433.70" y="359.40" font-size="7.9" fill="#1a1a1a" stroke="#1a1a1a" stroke-width="0.219" text-anchor="middle">56.25%</text>
<text x="433.50" y="375.80" font-size="7.9" fill="#1a1a1a" stroke="#1a1a1a" stroke-width="0.219" text-anchor="middle">(n=9)</text>
<text x="461.40" y="376.10" font-size="8.7" fill="#1a1a1a" stroke="#1a1a1a" stroke-width="0.242" text-anchor="start">Brain tumors</text>
<text x="461.40" y="385.50" font-size="8.7" fill="#1a1a1a" stroke="#1a1a1a" stroke-width="0.242" text-anchor="start">(e.g., Glioma,</text>
<text x="461.40" y="397.10" font-size="8.7" fill="#1a1a1a" stroke="#1a1a1a" stroke-width="0.242" text-anchor="start">GBM)</text>
<text x="462.20" y="291.50" font-size="6.7" fill="#ee1c25" stroke="#ee1c25" stroke-width="0.180" text-anchor="start" font-weight="bold">Muc1</text>
<text x="462.20" y="299.60" font-size="6.7" fill="#ee1c25" stroke="#ee1c25" stroke-width="0.180" text-anchor="start" font-weight="bold">Eno1</text>
<text x="462.20" y="307.70" font-size="6.7" fill="#ee1c25" stroke="#ee1c25" stroke-width="0.180" text-anchor="start" font-weight="bold">IL11</text>
<text x="462.20" y="315.70" font-size="6.7" fill="#ee1c25" stroke="#ee1c25" stroke-width="0.180" text-anchor="start" font-weight="bold">Col11a1</text>
<text x="462.20" y="323.80" font-size="6.7" fill="#ee1c25" stroke="#ee1c25" stroke-width="0.180" text-anchor="start" font-weight="bold">Col5a1</text>
<text x="462.20" y="331.90" font-size="6.7" fill="#f5a030" stroke="#f5a030" stroke-width="0.180" text-anchor="start" font-weight="bold">Aim2</text>
<text x="462.20" y="340.00" font-size="6.7" fill="#f5a030" stroke="#f5a030" stroke-width="0.180" text-anchor="start" font-weight="bold">Junb</text>
<path d="M487.5,286.9 H492.7 V343.1 H487.5 M492.7,313.2 H496" fill="none" stroke="#333" stroke-width="0.9"/>
<text x="519.60" y="311.90" font-size="6.7" fill="#1a1a1a" stroke="#1a1a1a" stroke-width="0.186" text-anchor="middle">Tumor immune</text>
<text x="516.80" y="320.10" font-size="6.7" fill="#1a1a1a" stroke="#1a1a1a" stroke-width="0.186" text-anchor="middle">modulator</text>
<rect x="46.40" y="459.40" width="13.46" height="20.91" fill="#f8a4a4"/>
<rect x="59.61" y="459.40" width="13.46" height="20.91" fill="#ff2a2a"/>
<rect x="72.82" y="459.40" width="13.46" height="20.91" fill="#ff5a5a"/>
<rect x="86.03" y="459.40" width="13.46" height="20.91" fill="#fce3e3"/>
<rect x="99.24" y="459.40" width="13.46" height="20.91" fill="#fce6e6"/>
<rect x="112.45" y="459.40" width="13.46" height="20.91" fill="#6f6ff2"/>
<rect x="125.66" y="459.40" width="13.46" height="20.91" fill="#4a4af2"/>
<rect x="138.87" y="459.40" width="13.46" height="20.91" fill="#bdbdf5"/>
<rect x="152.08" y="459.40" width="13.46" height="20.91" fill="#8f8ff0"/>
<rect x="46.40" y="480.06" width="13.46" height="20.91" fill="#f8a4a4"/>
<rect x="59.61" y="480.06" width="13.46" height="20.91" fill="#ff2a2a"/>
<rect x="72.82" y="480.06" width="13.46" height="20.91" fill="#ff5a5a"/>
<rect x="86.03" y="480.06" width="13.46" height="20.91" fill="#b0b0f5"/>
<rect x="99.24" y="480.06" width="13.46" height="20.91" fill="#f9caca"/>
<rect x="112.45" y="480.06" width="13.46" height="20.91" fill="#8585f0"/>
<rect x="125.66" y="480.06" width="13.46" height="20.91" fill="#dadaf8"/>
<rect x="138.87" y="480.06" width="13.46" height="20.91" fill="#5050ee"/>
<rect x="152.08" y="480.06" width="13.46" height="20.91" fill="#7a7af0"/>
<rect x="46.40" y="500.72" width="13.46" height="20.91" fill="#f8a4a4"/>
<rect x="59.61" y="500.72" width="13.46" height="20.91" fill="#ff2a2a"/>
<rect x="72.82" y="500.72" width="13.46" height="20.91" fill="#fce0e0"/>
<rect x="86.03" y="500.72" width="13.46" height="20.91" fill="#fa9e9e"/>
<rect x="99.24" y="500.72" width="13.46" height="20.91" fill="#f8b0b0"/>
<rect x="112.45" y="500.72" width="13.46" height="20.91" fill="#3f3ff0"/>
<rect x="125.66" y="500.72" width="13.46" height="20.91" fill="#9090f0"/>
<rect x="138.87" y="500.72" width="13.46" height="20.91" fill="#6767ee"/>
<rect x="152.08" y="500.72" width="13.46" height="20.91" fill="#b0b0f5"/>
<rect x="46.40" y="521.38" width="13.46" height="20.91" fill="#f8a4a4"/>
<rect x="59.61" y="521.38" width="13.46" height="20.91" fill="#ff0000"/>
<rect x="72.82" y="521.38" width="13.46" height="20.91" fill="#e0e0fa"/>
<rect x="86.03" y="521.38" width="13.46" height="20.91" fill="#f5f5fc"/>
<rect x="99.24" y="521.38" width="13.46" height="20.91" fill="#f8a5a5"/>
<rect x="112.45" y="521.38" width="13.46" height="20.91" fill="#8080f0"/>
<rect x="125.66" y="521.38" width="13.46" height="20.91" fill="#b5b5f5"/>
<rect x="138.87" y="521.38" width="13.46" height="20.91" fill="#6767ee"/>
<rect x="152.08" y="521.38" width="13.46" height="20.91" fill="#8f8ff0"/>
<rect x="46.40" y="542.04" width="13.46" height="20.91" fill="#f83a3a"/>
<rect x="59.61" y="542.04" width="13.46" height="20.91" fill="#fce3e3"/>
<rect x="72.82" y="542.04" width="13.46" height="20.91" fill="#f87575"/>
<rect x="86.03" y="542.04" width="13.46" height="20.91" fill="#7a7af0"/>
<rect x="99.24" y="542.04" width="13.46" height="20.91" fill="#f86a6a"/>
<rect x="112.45" y="542.04" width="13.46" height="20.91" fill="#8585f0"/>
<rect x="125.66" y="542.04" width="13.46" height="20.91" fill="#8585f0"/>
<rect x="138.87" y="542.04" width="13.46" height="20.91" fill="#dcdcf8"/>
<rect x="152.08" y="542.04" width="13.46" height="20.91" fill="#8585f0"/>
<rect x="46.40" y="562.70" width="13.46" height="20.91" fill="#d8d8f8"/>
<rect x="59.61" y="562.70" width="13.46" height="20.91" fill="#f8a0a0"/>
<rect x="72.82" y="562.70" width="13.46" height="20.91" fill="#f85555"/>
<rect x="86.03" y="562.70" width="13.46" height="20.91" fill="#ff2a2a"/>
<rect x="99.24" y="562.70" width="13.46" height="20.91" fill="#fcedec"/>
<rect x="112.45" y="562.70" width="13.46" height="20.91" fill="#6a6af0"/>
<rect x="125.66" y="562.70" width="13.46" height="20.91" fill="#9a9af2"/>
<rect x="138.87" y="562.70" width="13.46" height="20.91" fill="#a5a5f2"/>
<rect x="152.08" y="562.70" width="13.46" height="20.91" fill="#8585f0"/>
<rect x="46.40" y="583.36" width="13.46" height="20.91" fill="#dcdcf8"/>
<rect x="59.61" y="583.36" width="13.46" height="20.91" fill="#f8a5a5"/>
<rect x="72.82" y="583.36" width="13.46" height="20.91" fill="#f8a5a5"/>
<rect x="86.03" y="583.36" width="13.46" height="20.91" fill="#ff0000"/>
<rect x="99.24" y="583.36" width="13.46" height="20.91" fill="#dcdcf8"/>
<rect x="112.45" y="583.36" width="13.46" height="20.91" fill="#5c5cf0"/>
<rect x="125.66" y="583.36" width="13.46" height="20.91" fill="#6a6af0"/>
<rect x="138.87" y="583.36" width="13.46" height="20.91" fill="#fcf0f0"/>
<rect x="152.08" y="583.36" width="13.46" height="20.91" fill="#8585f0"/>
<rect x="46.4" y="450.7" width="66.05" height="6.6" fill="#f7857d"/><rect x="112.45" y="450.7" width="52.84" height="6.6" fill="#12c3ca"/>
<text x="78.50" y="447.20" font-size="9.5" fill="#1a1a1a" stroke="#1a1a1a" stroke-width="0.250" text-anchor="middle">WT</text>
<text x="138.50" y="447.20" font-size="9.5" fill="#1a1a1a" stroke="#1a1a1a" stroke-width="0.250" text-anchor="middle">Fabp7 KO</text>
<text x="168.00" y="456.50" font-size="6.9" fill="#1a1a1a" stroke="#1a1a1a" stroke-width="0.180" text-anchor="start" font-weight="bold">Group</text>
<text x="167.80" y="473.23" font-size="9.6" fill="#1a1a1a" stroke="#1a1a1a" stroke-width="0.250" text-anchor="start">Eno1</text>
<text x="167.80" y="493.89" font-size="9.6" fill="#1a1a1a" stroke="#1a1a1a" stroke-width="0.250" text-anchor="start">Muc1</text>
<text x="167.80" y="514.55" font-size="9.6" fill="#1a1a1a" stroke="#1a1a1a" stroke-width="0.250" text-anchor="start">Col5a1</text>
<text x="167.80" y="535.21" font-size="9.6" fill="#1a1a1a" stroke="#1a1a1a" stroke-width="0.250" text-anchor="start">Col11a1</text>
<text x="167.80" y="555.87" font-size="9.6" fill="#1a1a1a" stroke="#1a1a1a" stroke-width="0.250" text-anchor="start">Il11</text>
<text x="167.80" y="576.53" font-size="9.6" fill="#1a1a1a" stroke="#1a1a1a" stroke-width="0.250" text-anchor="start">Aim2</text>
<text x="167.80" y="597.19" font-size="9.6" fill="#1a1a1a" stroke="#1a1a1a" stroke-width="0.250" text-anchor="start">Junb</text>
<text x="50.10" y="605.6" font-size="9.8" fill="#1a1a1a" stroke="#1a1a1a" stroke-width="0.22" transform="rotate(90 50.10 605.6)">WT- 1</text>
<text x="63.32" y="605.6" font-size="9.8" fill="#1a1a1a" stroke="#1a1a1a" stroke-width="0.22" transform="rotate(90 63.32 605.6)">WT- 2</text>
<text x="76.53" y="605.6" font-size="9.8" fill="#1a1a1a" stroke="#1a1a1a" stroke-width="0.22" transform="rotate(90 76.53 605.6)">WT- 3</text>
<text x="89.73" y="605.6" font-size="9.8" fill="#1a1a1a" stroke="#1a1a1a" stroke-width="0.22" transform="rotate(90 89.73 605.6)">WT- 4</text>
<text x="102.94" y="605.6" font-size="9.8" fill="#1a1a1a" stroke="#1a1a1a" stroke-width="0.22" transform="rotate(90 102.94 605.6)">WT- 5</text>
<text x="116.16" y="605.6" font-size="9.8" fill="#1a1a1a" stroke="#1a1a1a" stroke-width="0.22" transform="rotate(90 116.16 605.6)">Fabp7 KO- 1</text>
<text x="129.37" y="605.6" font-size="9.8" fill="#1a1a1a" stroke="#1a1a1a" stroke-width="0.22" transform="rotate(90 129.37 605.6)">Fabp7 KO- 2</text>
<text x="142.57" y="605.6" font-size="9.8" fill="#1a1a1a" stroke="#1a1a1a" stroke-width="0.22" transform="rotate(90 142.57 605.6)">Fabp7 KO- 3</text>
<text x="155.78" y="605.6" font-size="9.8" fill="#1a1a1a" stroke="#1a1a1a" stroke-width="0.22" transform="rotate(90 155.78 605.6)">Fabp7 KO- 4</text>
<path d="M46.4,469.72999999999996 H33.0 V490.39 H46.4 M46.4,511.04999999999995 H36.6 V531.71 H46.4 M33.0,480.05999999999995 H30.8 V521.38 H36.6 M30.8,500.71999999999997 H23.4 V552.37 H46.4 M46.4,573.03 H37.8 V593.6899999999999 H46.4 M23.4,526.545 H14.5 V583.3599999999999 H37.8" fill="none" stroke="#333" stroke-width="0.9"/>
<rect x="166.0" y="458.5" width="40.3" height="104.5" fill="none" stroke="#ee1c25" stroke-width="2.0" stroke-dasharray="3.9 2.1"/>
<rect x="166.0" y="565.3" width="40.3" height="38.3" fill="none" stroke="#f7941d" stroke-width="2.0" stroke-dasharray="3.9 2.1"/>
<defs><linearGradient id="cb" x1="0" y1="0" x2="0" y2="1"><stop offset="0" stop-color="#ff0000"/><stop offset="0.5" stop-color="#ffffff"/><stop offset="1" stop-color="#0000ff"/></linearGradient></defs>
<rect x="208.3" y="449.6" width="6.1" height="91.2" fill="url(#cb)"/>
<text x="217.00" y="453.50" font-size="7.6" fill="#1a1a1a" stroke="#1a1a1a" stroke-width="0.211" text-anchor="start">2</text>
<text x="217.00" y="476.10" font-size="7.6" fill="#1a1a1a" stroke="#1a1a1a" stroke-width="0.211" text-anchor="start">1</text>
<text x="217.00" y="498.80" font-size="7.6" fill="#1a1a1a" stroke="#1a1a1a" stroke-width="0.211" text-anchor="start">0</text>
<text x="217.00" y="521.30" font-size="7.6" fill="#1a1a1a" stroke="#1a1a1a" stroke-width="0.211" text-anchor="start">- 1</text>
<text x="217.00" y="543.80" font-size="7.6" fill="#1a1a1a" stroke="#1a1a1a" stroke-width="0.211" text-anchor="start">- 2</text>
<text x="229.30" y="455.00" font-size="7.3" fill="#1a1a1a" stroke="#1a1a1a" stroke-width="0.180" text-anchor="start" font-weight="bold">Group</text>
<rect x="229.3" y="457.7" width="10.7" height="10.3" fill="#12c3ca"/><rect x="229.3" y="468.0" width="10.7" height="10.5" fill="#f7857d"/>
<text x="241.80" y="466.00" font-size="7.6" fill="#1a1a1a" stroke="#1a1a1a" stroke-width="0.211" text-anchor="start">Fabp7 KO</text>
<text x="241.80" y="476.30" font-size="7.6" fill="#1a1a1a" stroke="#1a1a1a" stroke-width="0.211" text-anchor="start">WT</text>
<rect x="305.20" y="459.40" width="15.68" height="20.91" fill="#9a9af2"/>
<rect x="320.63" y="459.40" width="15.68" height="20.91" fill="#7070f0"/>
<rect x="336.06" y="459.40" width="15.68" height="20.91" fill="#a5a5f2"/>
<rect x="351.49" y="459.40" width="15.68" height="20.91" fill="#fcfcf5"/>
<rect x="366.92" y="459.40" width="15.68" height="20.91" fill="#fa7070"/>
<rect x="382.35" y="459.40" width="15.68" height="20.91" fill="#fa6565"/>
<rect x="397.78" y="459.40" width="15.68" height="20.91" fill="#fab5b5"/>
<rect x="305.20" y="480.06" width="15.68" height="20.91" fill="#3a3af0"/>
<rect x="320.63" y="480.06" width="15.68" height="20.91" fill="#fdf5f5"/>
<rect x="336.06" y="480.06" width="15.68" height="20.91" fill="#a5a5f2"/>
<rect x="351.49" y="480.06" width="15.68" height="20.91" fill="#c5c5f5"/>
<rect x="366.92" y="480.06" width="15.68" height="20.91" fill="#fa8585"/>
<rect x="382.35" y="480.06" width="15.68" height="20.91" fill="#fac0c0"/>
<rect x="397.78" y="480.06" width="15.68" height="20.91" fill="#fa5a5a"/>
<rect x="305.20" y="500.72" width="15.68" height="20.91" fill="#fdf2f2"/>
<rect x="320.63" y="500.72" width="15.68" height="20.91" fill="#fbd5d5"/>
<rect x="336.06" y="500.72" width="15.68" height="20.91" fill="#e8e8fa"/>
<rect x="351.49" y="500.72" width="15.68" height="20.91" fill="#0000f0"/>
<rect x="366.92" y="500.72" width="15.68" height="20.91" fill="#faa5a5"/>
<rect x="382.35" y="500.72" width="15.68" height="20.91" fill="#fa9999"/>
<rect x="397.78" y="500.72" width="15.68" height="20.91" fill="#fab0b0"/>
<rect x="305.20" y="521.38" width="15.68" height="20.91" fill="#fa7575"/>
<rect x="320.63" y="521.38" width="15.68" height="20.91" fill="#fa5a5a"/>
<rect x="336.06" y="521.38" width="15.68" height="20.91" fill="#fa9a9a"/>
<rect x="351.49" y="521.38" width="15.68" height="20.91" fill="#8080f0"/>
<rect x="366.92" y="521.38" width="15.68" height="20.91" fill="#c0c0f5"/>
<rect x="382.35" y="521.38" width="15.68" height="20.91" fill="#8585f0"/>
<rect x="397.78" y="521.38" width="15.68" height="20.91" fill="#b8b8f5"/>
<rect x="305.20" y="542.04" width="15.68" height="20.91" fill="#a0a0f2"/>
<rect x="320.63" y="542.04" width="15.68" height="20.91" fill="#a0a0f2"/>
<rect x="336.06" y="542.04" width="15.68" height="20.91" fill="#a0a0f2"/>
<rect x="351.49" y="542.04" width="15.68" height="20.91" fill="#a0a0f2"/>
<rect x="366.92" y="542.04" width="15.68" height="20.91" fill="#fa7070"/>
<rect x="382.35" y="542.04" width="15.68" height="20.91" fill="#fa7070"/>
<rect x="397.78" y="542.04" width="15.68" height="20.91" fill="#fa9090"/>
<rect x="305.20" y="562.70" width="15.68" height="20.91" fill="#c8c8f8"/>
<rect x="320.63" y="562.70" width="15.68" height="20.91" fill="#fa9595"/>
<rect x="336.06" y="562.70" width="15.68" height="20.91" fill="#4848f0"/>
<rect x="351.49" y="562.70" width="15.68" height="20.91" fill="#7a7af0"/>
<rect x="366.92" y="562.70" width="15.68" height="20.91" fill="#fa6a6a"/>
<rect x="382.35" y="562.70" width="15.68" height="20.91" fill="#fbcaca"/>
<rect x="397.78" y="562.70" width="15.68" height="20.91" fill="#fbcaca"/>
<rect x="305.20" y="583.36" width="15.68" height="20.91" fill="#6a6af0"/>
<rect x="320.63" y="583.36" width="15.68" height="20.91" fill="#a5a5f2"/>
<rect x="336.06" y="583.36" width="15.68" height="20.91" fill="#b5b5f5"/>
<rect x="351.49" y="583.36" width="15.68" height="20.91" fill="#d0d0f8"/>
<rect x="366.92" y="583.36" width="15.68" height="20.91" fill="#fa4a4a"/>
<rect x="382.35" y="583.36" width="15.68" height="20.91" fill="#fa9090"/>
<rect x="397.78" y="583.36" width="15.68" height="20.91" fill="#faa0a0"/>
<rect x="305.2" y="451.8" width="61.72" height="5.9" fill="#12c3ca"/><rect x="366.92" y="451.8" width="46.29" height="5.9" fill="#f7857d"/>
<text x="337.50" y="448.00" font-size="9.5" fill="#1a1a1a" stroke="#1a1a1a" stroke-width="0.250" text-anchor="middle">CTL</text>
<text x="388.60" y="448.00" font-size="9.5" fill="#1a1a1a" stroke="#1a1a1a" stroke-width="0.250" text-anchor="middle">FABP OV</text>
<text x="415.70" y="457.80" font-size="6.2" fill="#1a1a1a" stroke="#1a1a1a" stroke-width="0.180" text-anchor="start" font-weight="bold">Group</text>
<text x="415.60" y="472.63" font-size="7.9" fill="#1a1a1a" stroke="#1a1a1a" stroke-width="0.219" text-anchor="start">ENO1</text>
<text x="415.60" y="493.29" font-size="7.9" fill="#1a1a1a" stroke="#1a1a1a" stroke-width="0.219" text-anchor="start">MUC1</text>
<text x="415.60" y="513.95" font-size="7.9" fill="#1a1a1a" stroke="#1a1a1a" stroke-width="0.219" text-anchor="start">COL5A1</text>
<text x="415.60" y="534.61" font-size="7.9" fill="#1a1a1a" stroke="#1a1a1a" stroke-width="0.219" text-anchor="start">COL11A1</text>
<text x="415.60" y="555.27" font-size="7.9" fill="#1a1a1a" stroke="#1a1a1a" stroke-width="0.219" text-anchor="start">IL11</text>
<text x="415.60" y="575.93" font-size="7.9" fill="#1a1a1a" stroke="#1a1a1a" stroke-width="0.219" text-anchor="start">AIM2</text>
<text x="415.60" y="596.59" font-size="7.9" fill="#1a1a1a" stroke="#1a1a1a" stroke-width="0.219" text-anchor="start">JUNB</text>
<text x="310.81" y="605.6" font-size="7.8" fill="#1a1a1a" stroke="#1a1a1a" stroke-width="0.18" transform="rotate(90 310.81 605.6)">CTL_1</text>
<text x="326.24" y="605.6" font-size="7.8" fill="#1a1a1a" stroke="#1a1a1a" stroke-width="0.18" transform="rotate(90 326.24 605.6)">CTL_2</text>
<text x="341.67" y="605.6" font-size="7.8" fill="#1a1a1a" stroke="#1a1a1a" stroke-width="0.18" transform="rotate(90 341.67 605.6)">CTL_3</text>
<text x="357.10" y="605.6" font-size="7.8" fill="#1a1a1a" stroke="#1a1a1a" stroke-width="0.18" transform="rotate(90 357.10 605.6)">CTL_4</text>
<text x="372.53" y="605.6" font-size="7.8" fill="#1a1a1a" stroke="#1a1a1a" stroke-width="0.18" transform="rotate(90 372.53 605.6)">FABP7- OV_1</text>
<text x="387.96" y="605.6" font-size="7.8" fill="#1a1a1a" stroke="#1a1a1a" stroke-width="0.18" transform="rotate(90 387.96 605.6)">FABP7- OV_2</text>
<text x="403.39" y="605.6" font-size="7.8" fill="#1a1a1a" stroke="#1a1a1a" stroke-width="0.18" transform="rotate(90 403.39 605.6)">FABP7- OV_3</text>
<rect x="413.6" y="458.8" width="36.9" height="101.5" fill="none" stroke="#ee1c25" stroke-width="2.0" stroke-dasharray="3.9 2.1"/>
<rect x="413.6" y="565.4" width="36.9" height="37.6" fill="none" stroke="#f7941d" stroke-width="2.0" stroke-dasharray="3.9 2.1"/>
<rect x="452.9" y="451.5" width="5.1" height="72.5" fill="url(#cb)"/>
<text x="460.00" y="454.20" font-size="6.2" fill="#1a1a1a" stroke="#1a1a1a" stroke-width="0.172" text-anchor="start">2</text>
<text x="460.00" y="472.90" font-size="6.2" fill="#1a1a1a" stroke="#1a1a1a" stroke-width="0.172" text-anchor="start">1</text>
<text x="460.00" y="489.80" font-size="6.2" fill="#1a1a1a" stroke="#1a1a1a" stroke-width="0.172" text-anchor="start">0</text>
<text x="460.00" y="507.20" font-size="6.2" fill="#1a1a1a" stroke="#1a1a1a" stroke-width="0.172" text-anchor="start">- 1</text>
<text x="460.00" y="524.20" font-size="6.2" fill="#1a1a1a" stroke="#1a1a1a" stroke-width="0.172" text-anchor="start">- 2</text>
<text x="469.50" y="456.40" font-size="6.0" fill="#1a1a1a" stroke="#1a1a1a" stroke-width="0.180" text-anchor="start" font-weight="bold">Group</text>
<rect x="469.5" y="457.4" width="8.2" height="8.6" fill="#12c3ca"/><rect x="469.5" y="466.0" width="8.2" height="8.5" fill="#f7857d"/>
<text x="479.50" y="464.20" font-size="6.2" fill="#1a1a1a" stroke="#1a1a1a" stroke-width="0.172" text-anchor="start">CTL</text>
<text x="479.50" y="472.60" font-size="6.2" fill="#1a1a1a" stroke="#1a1a1a" stroke-width="0.172" text-anchor="start">FABP7- OV</text></svg>
</body></html>
